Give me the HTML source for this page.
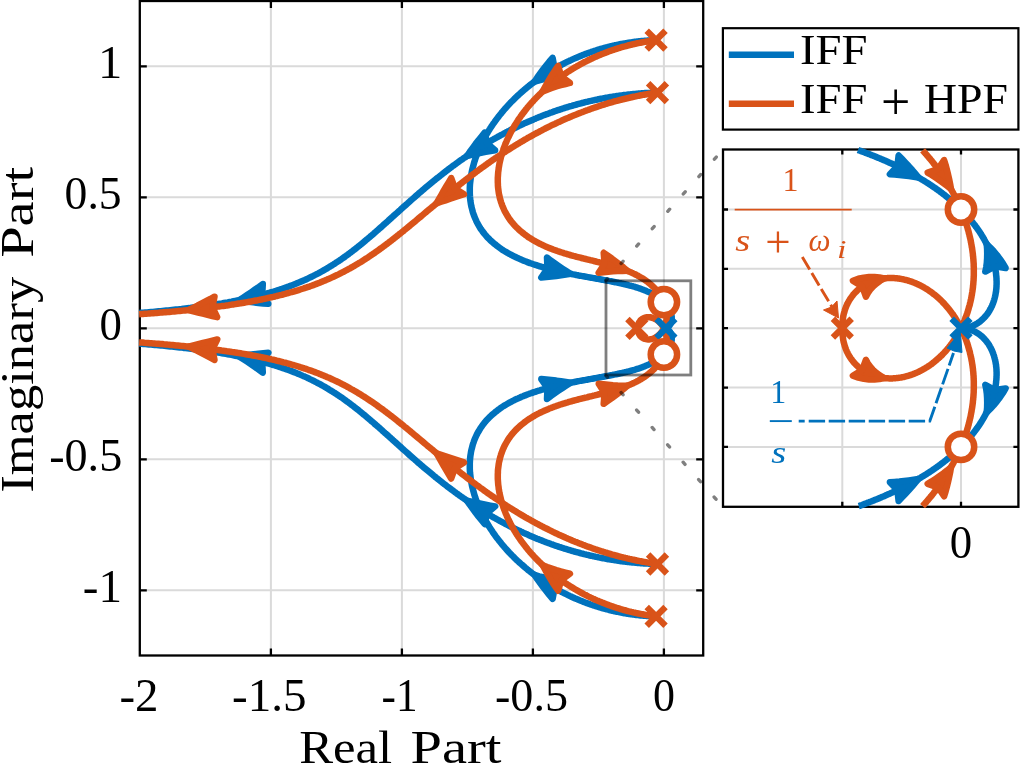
<!DOCTYPE html>
<html><head><meta charset="utf-8"><title>Root Locus</title><style>html,body{margin:0;padding:0;background:#fff}svg{display:block}</style></head><body>
<svg width="1020" height="766" viewBox="0 0 1020 766">
<rect width="1020" height="766" fill="#fff"/>
<g stroke="#dadada" stroke-width="2" fill="none">
<path d="M270.9,1.0 V655.5"/>
<path d="M401.9,1.0 V655.5"/>
<path d="M532.9,1.0 V655.5"/>
<path d="M663.9,1.0 V655.5"/>
<path d="M139.8,66.3 H703.2"/>
<path d="M139.8,197.3 H703.2"/>
<path d="M139.8,328.3 H703.2"/>
<path d="M139.8,459.3 H703.2"/>
<path d="M139.8,590.3 H703.2"/>
</g>
<g stroke="#000" stroke-width="2.3" fill="none">
<rect x="139.8" y="1.0" width="563.4" height="654.5"/>
<path d="M270.9,655.5 v-7 M270.9,1.0 v7"/>
<path d="M401.9,655.5 v-7 M401.9,1.0 v7"/>
<path d="M532.9,655.5 v-7 M532.9,1.0 v7"/>
<path d="M663.9,655.5 v-7 M663.9,1.0 v7"/>
<path d="M139.8,66.3 h7 M703.2,66.3 h-7"/>
<path d="M139.8,197.3 h7 M703.2,197.3 h-7"/>
<path d="M139.8,328.3 h7 M703.2,328.3 h-7"/>
<path d="M139.8,459.3 h7 M703.2,459.3 h-7"/>
<path d="M139.8,590.3 h7 M703.2,590.3 h-7"/>
</g>
<g fill="none" stroke="#0072BD" stroke-width="6.5" stroke-linejoin="round">
<path d="M657.5,564.0 L656.5,564.0 L655.4,563.9 L654.4,563.9 L653.3,563.9 L652.3,563.8 L651.2,563.8 L650.2,563.7 L649.1,563.7 L648.1,563.6 L647.0,563.6 L646.0,563.5 L644.9,563.5 L643.8,563.4 L642.8,563.3 L641.7,563.3 L640.7,563.2 L639.6,563.1 L638.5,563.0 L637.5,562.9 L636.4,562.8 L635.3,562.7 L634.3,562.6 L633.2,562.5 L632.1,562.4 L631.0,562.3 L630.0,562.2 L628.8,562.1 L627.8,562.0 L626.7,561.8 L625.6,561.7 L624.6,561.6 L623.5,561.5 L622.4,561.3 L621.3,561.2 L620.2,561.0 L619.2,560.9 L618.1,560.7 L617.0,560.6 L616.0,560.4 L614.9,560.2 L613.8,560.1 L612.7,559.9 L611.6,559.7 L610.5,559.6 L609.4,559.4 L608.3,559.2 L607.3,559.0 L606.2,558.8 L605.2,558.6 L604.1,558.4 L602.9,558.2 L601.8,558.0 L600.8,557.8 L599.7,557.6 L598.6,557.4 L597.5,557.1 L596.4,556.9 L595.3,556.7 L594.1,556.4 L593.1,556.2 L592.0,555.9 L590.9,555.7 L589.8,555.5 L588.7,555.2 L587.6,554.9 L586.5,554.7 L585.3,554.4 L584.1,554.1 L583.1,553.8 L582.1,553.6 L581.0,553.3 L579.9,553.0 L578.8,552.7 L577.7,552.4 L576.6,552.1 L575.5,551.8 L574.3,551.5 L573.2,551.2 L572.0,550.8 L570.8,550.5 L569.8,550.2 L568.8,549.9 L567.7,549.6 L566.7,549.2 L565.6,548.9 L564.5,548.6 L563.4,548.2 L562.3,547.9 L561.2,547.5 L560.1,547.1 L559.0,546.8 L557.8,546.4 L556.6,546.0 L555.4,545.6 L554.3,545.2 L553.0,544.7 L551.8,544.3 L550.8,544.0 L549.8,543.6 L548.8,543.2 L547.8,542.8 L546.8,542.5 L545.7,542.1 L544.7,541.7 L543.6,541.3 L542.5,540.9 L541.5,540.4 L540.4,540.0 L539.3,539.6 L538.1,539.1 L537.0,538.7 L535.9,538.2 L534.7,537.7 L533.6,537.2 L532.4,536.7 L531.2,536.2 L530.0,535.7 L528.8,535.2 L527.6,534.6 L526.4,534.1 L525.1,533.5 L523.9,533.0 L522.6,532.4 L521.7,531.9 L520.7,531.5 L519.7,531.0 L518.7,530.6 L517.7,530.1 L516.7,529.6 L515.7,529.1 L514.7,528.6 L513.7,528.1 L512.7,527.6 L511.6,527.1 L510.6,526.6 L509.6,526.0 L508.5,525.5 L507.4,524.9 L506.4,524.4 L505.3,523.8 L504.2,523.2 L503.1,522.6 L502.0,522.0 L500.8,521.4 L499.7,520.8 L498.6,520.2 L497.4,519.5 L496.3,518.9 L495.1,518.2 L493.9,517.6 L492.7,516.9 L491.5,516.2 L490.3,515.5 L489.1,514.8 L487.9,514.0 L486.7,513.3 L485.4,512.6 L484.2,511.8 L482.9,511.0 L481.6,510.2 L480.3,509.4 L479.0,508.6 L477.7,507.8 L476.4,506.9 L475.5,506.3 L474.6,505.7 L473.7,505.2 L472.8,504.6 L471.9,504.0 L471.0,503.4 L470.1,502.7 L469.1,502.1 L468.2,501.5 L467.3,500.8 L466.3,500.2 L465.4,499.5 L464.4,498.9 L463.4,498.2 L462.5,497.5 L461.5,496.8 L460.5,496.2 L459.5,495.5 L458.5,494.7 L457.5,494.0 L456.5,493.3 L455.5,492.5 L454.5,491.8 L453.5,491.0 L452.4,490.3 L451.4,489.5 L450.3,488.7 L449.3,487.9 L448.2,487.1 L447.1,486.3 L446.1,485.5 L445.0,484.6 L443.9,483.8 L442.8,482.9 L441.7,482.0 L440.5,481.1 L439.4,480.2 L438.3,479.3 L437.1,478.4 L435.9,477.5 L434.8,476.5 L433.6,475.6 L432.4,474.6 L431.2,473.6 L430.0,472.6 L428.8,471.6 L427.6,470.6 L426.3,469.5 L425.1,468.5 L423.8,467.4 L422.5,466.3 L421.2,465.2 L419.9,464.1 L418.6,463.0 L417.3,461.8 L415.9,460.6 L414.6,459.4 L413.2,458.2 L411.8,457.0 L410.4,455.8 L409.0,454.5 L407.6,453.2 L406.1,451.9 L404.6,450.6 L403.1,449.3 L401.6,447.9 L400.1,446.5 L398.5,445.1 L397.8,444.4 L397.0,443.7 L396.2,443.0 L395.4,442.3 L394.6,441.6 L393.7,440.8 L392.9,440.1 L392.1,439.3 L391.3,438.6 L390.4,437.8 L389.6,437.1 L388.7,436.3 L387.9,435.5 L387.0,434.7 L386.1,433.9 L385.2,433.2 L384.3,432.4 L383.4,431.6 L382.5,430.7 L381.6,429.9 L380.7,429.1 L379.8,428.3 L378.8,427.4 L377.9,426.6 L376.9,425.8 L375.9,424.9 L374.9,424.1 L374.0,423.2 L373.0,422.3 L371.9,421.4 L370.9,420.6 L369.9,419.7 L368.8,418.8 L367.8,417.9 L366.7,417.0 L365.6,416.1 L364.6,415.2 L363.4,414.3 L362.3,413.3 L361.2,412.4 L360.1,411.5 L358.9,410.6 L357.7,409.6 L356.5,408.7 L355.3,407.7 L354.1,406.8 L352.9,405.8 L351.6,404.9 L350.4,403.9 L349.1,403.0 L347.8,402.0 L346.5,401.1 L345.2,400.1 L343.8,399.1 L342.5,398.2 L341.1,397.2 L339.7,396.3 L338.3,395.3 L336.8,394.4 L335.4,393.4 L333.9,392.5 L332.4,391.5 L330.9,390.6 L329.4,389.7 L327.9,388.7 L326.3,387.8 L324.8,386.9 L323.2,386.0 L321.6,385.1 L320.0,384.2 L318.3,383.3 L316.7,382.5 L315.0,381.6 L313.3,380.7 L311.6,379.9 L309.9,379.1 L308.2,378.2 L306.5,377.4 L304.7,376.6 L303.0,375.9 L301.2,375.1 L299.4,374.3 L297.6,373.6 L295.8,372.8 L294.0,372.1 L292.2,371.4 L290.4,370.7 L288.5,370.0 L286.7,369.4 L284.8,368.7 L283.0,368.1 L281.1,367.4 L279.2,366.8 L277.4,366.2 L275.5,365.6 L273.6,365.0 L271.7,364.5 L269.8,363.9 L267.9,363.4 L266.0,362.8 L264.1,362.3 L262.2,361.8 L260.3,361.3 L258.4,360.8 L256.5,360.3 L254.6,359.9 L252.7,359.4 L250.8,359.0 L248.9,358.5 L246.9,358.1 L245.0,357.7 L243.1,357.2 L241.2,356.8 L239.3,356.4 L237.3,356.1 L235.4,355.7 L233.5,355.3 L231.6,354.9 L229.7,354.6 L227.7,354.2 L225.8,353.9 L223.9,353.6 L222.0,353.2 L220.0,352.9 L218.1,352.6 L216.2,352.3 L214.3,352.0 L212.4,351.7 L210.4,351.4 L208.5,351.1 L206.6,350.8 L204.7,350.6 L202.8,350.3 L200.9,350.0 L198.9,349.8 L197.0,349.5 L195.1,349.3 L193.2,349.0 L191.3,348.8 L189.3,348.5 L187.4,348.3 L185.5,348.1 L183.6,347.9 L181.7,347.6 L179.8,347.4 L177.8,347.2 L175.9,347.0 L174.0,346.8 L172.1,346.6 L170.2,346.4 L168.2,346.2 L166.3,346.0 L164.4,345.8 L162.5,345.6 L160.6,345.4 L158.6,345.3 L156.7,345.1 L154.8,344.9 L152.9,344.7 L151.0,344.6 L149.0,344.4 L147.1,344.2 L145.2,344.1 L143.3,343.9 L141.4,343.8 L139.4,343.6"/>
<path d="M657.5,92.6 L656.5,92.6 L655.4,92.7 L654.4,92.7 L653.3,92.7 L652.3,92.8 L651.2,92.8 L650.2,92.9 L649.1,92.9 L648.1,93.0 L647.0,93.0 L646.0,93.1 L644.9,93.1 L643.8,93.2 L642.8,93.3 L641.7,93.3 L640.7,93.4 L639.6,93.5 L638.5,93.6 L637.5,93.7 L636.4,93.8 L635.3,93.9 L634.3,94.0 L633.2,94.1 L632.1,94.2 L631.0,94.3 L630.0,94.4 L628.8,94.5 L627.8,94.6 L626.7,94.8 L625.6,94.9 L624.6,95.0 L623.5,95.1 L622.4,95.3 L621.3,95.4 L620.2,95.6 L619.2,95.7 L618.1,95.9 L617.0,96.0 L616.0,96.2 L614.9,96.4 L613.8,96.5 L612.7,96.7 L611.6,96.9 L610.5,97.0 L609.4,97.2 L608.3,97.4 L607.3,97.6 L606.2,97.8 L605.2,98.0 L604.1,98.2 L602.9,98.4 L601.8,98.6 L600.8,98.8 L599.7,99.0 L598.6,99.2 L597.5,99.5 L596.4,99.7 L595.3,99.9 L594.1,100.2 L593.1,100.4 L592.0,100.7 L590.9,100.9 L589.8,101.1 L588.7,101.4 L587.6,101.7 L586.5,101.9 L585.3,102.2 L584.1,102.5 L583.1,102.8 L582.1,103.0 L581.0,103.3 L579.9,103.6 L578.8,103.9 L577.7,104.2 L576.6,104.5 L575.5,104.8 L574.3,105.1 L573.2,105.4 L572.0,105.8 L570.8,106.1 L569.8,106.4 L568.8,106.7 L567.7,107.0 L566.7,107.4 L565.6,107.7 L564.5,108.0 L563.4,108.4 L562.3,108.7 L561.2,109.1 L560.1,109.5 L559.0,109.8 L557.8,110.2 L556.6,110.6 L555.4,111.0 L554.3,111.4 L553.0,111.9 L551.8,112.3 L550.8,112.6 L549.8,113.0 L548.8,113.4 L547.8,113.8 L546.8,114.1 L545.7,114.5 L544.7,114.9 L543.6,115.3 L542.5,115.7 L541.5,116.2 L540.4,116.6 L539.3,117.0 L538.1,117.5 L537.0,117.9 L535.9,118.4 L534.7,118.9 L533.6,119.4 L532.4,119.9 L531.2,120.4 L530.0,120.9 L528.8,121.4 L527.6,122.0 L526.4,122.5 L525.1,123.1 L523.9,123.6 L522.6,124.2 L521.7,124.7 L520.7,125.1 L519.7,125.6 L518.7,126.0 L517.7,126.5 L516.7,127.0 L515.7,127.5 L514.7,128.0 L513.7,128.5 L512.7,129.0 L511.6,129.5 L510.6,130.0 L509.6,130.6 L508.5,131.1 L507.4,131.7 L506.4,132.2 L505.3,132.8 L504.2,133.4 L503.1,134.0 L502.0,134.6 L500.8,135.2 L499.7,135.8 L498.6,136.4 L497.4,137.1 L496.3,137.7 L495.1,138.4 L493.9,139.0 L492.7,139.7 L491.5,140.4 L490.3,141.1 L489.1,141.8 L487.9,142.6 L486.7,143.3 L485.4,144.0 L484.2,144.8 L482.9,145.6 L481.6,146.4 L480.3,147.2 L479.0,148.0 L477.7,148.8 L476.4,149.7 L475.5,150.3 L474.6,150.9 L473.7,151.4 L472.8,152.0 L471.9,152.6 L471.0,153.2 L470.1,153.9 L469.1,154.5 L468.2,155.1 L467.3,155.8 L466.3,156.4 L465.4,157.1 L464.4,157.7 L463.4,158.4 L462.5,159.1 L461.5,159.8 L460.5,160.4 L459.5,161.1 L458.5,161.9 L457.5,162.6 L456.5,163.3 L455.5,164.1 L454.5,164.8 L453.5,165.6 L452.4,166.3 L451.4,167.1 L450.3,167.9 L449.3,168.7 L448.2,169.5 L447.1,170.3 L446.1,171.1 L445.0,172.0 L443.9,172.8 L442.8,173.7 L441.7,174.6 L440.5,175.5 L439.4,176.4 L438.3,177.3 L437.1,178.2 L435.9,179.1 L434.8,180.1 L433.6,181.0 L432.4,182.0 L431.2,183.0 L430.0,184.0 L428.8,185.0 L427.6,186.0 L426.3,187.1 L425.1,188.1 L423.8,189.2 L422.5,190.3 L421.2,191.4 L419.9,192.5 L418.6,193.6 L417.3,194.8 L415.9,196.0 L414.6,197.2 L413.2,198.4 L411.8,199.6 L410.4,200.8 L409.0,202.1 L407.6,203.4 L406.1,204.7 L404.6,206.0 L403.1,207.3 L401.6,208.7 L400.1,210.1 L398.5,211.5 L397.8,212.2 L397.0,212.9 L396.2,213.6 L395.4,214.3 L394.6,215.0 L393.7,215.8 L392.9,216.5 L392.1,217.3 L391.3,218.0 L390.4,218.8 L389.6,219.5 L388.7,220.3 L387.9,221.1 L387.0,221.9 L386.1,222.7 L385.2,223.4 L384.3,224.2 L383.4,225.0 L382.5,225.9 L381.6,226.7 L380.7,227.5 L379.8,228.3 L378.8,229.2 L377.9,230.0 L376.9,230.8 L375.9,231.7 L374.9,232.5 L374.0,233.4 L373.0,234.3 L371.9,235.2 L370.9,236.0 L369.9,236.9 L368.8,237.8 L367.8,238.7 L366.7,239.6 L365.6,240.5 L364.6,241.4 L363.4,242.3 L362.3,243.3 L361.2,244.2 L360.1,245.1 L358.9,246.0 L357.7,247.0 L356.5,247.9 L355.3,248.9 L354.1,249.8 L352.9,250.8 L351.6,251.7 L350.4,252.7 L349.1,253.6 L347.8,254.6 L346.5,255.5 L345.2,256.5 L343.8,257.5 L342.5,258.4 L341.1,259.4 L339.7,260.3 L338.3,261.3 L336.8,262.2 L335.4,263.2 L333.9,264.1 L332.4,265.1 L330.9,266.0 L329.4,266.9 L327.9,267.9 L326.3,268.8 L324.8,269.7 L323.2,270.6 L321.6,271.5 L320.0,272.4 L318.3,273.3 L316.7,274.1 L315.0,275.0 L313.3,275.9 L311.6,276.7 L309.9,277.5 L308.2,278.4 L306.5,279.2 L304.7,280.0 L303.0,280.7 L301.2,281.5 L299.4,282.3 L297.6,283.0 L295.8,283.8 L294.0,284.5 L292.2,285.2 L290.4,285.9 L288.5,286.6 L286.7,287.2 L284.8,287.9 L283.0,288.5 L281.1,289.2 L279.2,289.8 L277.4,290.4 L275.5,291.0 L273.6,291.6 L271.7,292.1 L269.8,292.7 L267.9,293.2 L266.0,293.8 L264.1,294.3 L262.2,294.8 L260.3,295.3 L258.4,295.8 L256.5,296.3 L254.6,296.7 L252.7,297.2 L250.8,297.6 L248.9,298.1 L246.9,298.5 L245.0,298.9 L243.1,299.4 L241.2,299.8 L239.3,300.2 L237.3,300.5 L235.4,300.9 L233.5,301.3 L231.6,301.7 L229.7,302.0 L227.7,302.4 L225.8,302.7 L223.9,303.0 L222.0,303.4 L220.0,303.7 L218.1,304.0 L216.2,304.3 L214.3,304.6 L212.4,304.9 L210.4,305.2 L208.5,305.5 L206.6,305.8 L204.7,306.0 L202.8,306.3 L200.9,306.6 L198.9,306.8 L197.0,307.1 L195.1,307.3 L193.2,307.6 L191.3,307.8 L189.3,308.1 L187.4,308.3 L185.5,308.5 L183.6,308.7 L181.7,309.0 L179.8,309.2 L177.8,309.4 L175.9,309.6 L174.0,309.8 L172.1,310.0 L170.2,310.2 L168.2,310.4 L166.3,310.6 L164.4,310.8 L162.5,311.0 L160.6,311.2 L158.6,311.3 L156.7,311.5 L154.8,311.7 L152.9,311.9 L151.0,312.0 L149.0,312.2 L147.1,312.4 L145.2,312.5 L143.3,312.7 L141.4,312.8 L139.4,313.0"/>
<path d="M663.9,328.3 L664.9,328.2 L666.0,328.0 L666.9,327.6 L667.8,327.0 L668.7,326.3 L669.4,325.6 L670.0,324.7 L670.5,323.8 L671.0,322.8 L671.3,321.8 L671.5,320.8 L671.7,319.8 L671.7,318.7 L671.7,317.7 L671.7,316.6 L671.5,315.6 L671.3,314.5 L671.1,313.5 L670.7,312.5 L670.4,311.5 L670.0,310.6 L669.5,309.6 L669.0,308.7 L668.5,307.8 L667.9,306.9 L667.3,306.0 L666.7,305.2 L666.0,304.4 L665.3,303.6 L664.6,302.8 L664.5,302.7"/>
<path d="M663.9,328.3 L664.9,328.4 L666.0,328.6 L666.9,329.0 L667.8,329.6 L668.7,330.3 L669.4,331.0 L670.0,331.9 L670.5,332.8 L671.0,333.8 L671.3,334.8 L671.5,335.8 L671.7,336.8 L671.7,337.9 L671.7,338.9 L671.7,340.0 L671.5,341.0 L671.3,342.1 L671.1,343.1 L670.7,344.1 L670.4,345.1 L670.0,346.0 L669.5,347.0 L669.0,347.9 L668.5,348.8 L667.9,349.7 L667.3,350.6 L666.7,351.4 L666.0,352.2 L665.3,353.0 L664.6,353.8 L664.5,353.9"/>
<path d="M656.1,40.2 L655.1,40.2 L654.0,40.3 L653.0,40.3 L651.9,40.4 L650.9,40.4 L649.8,40.5 L648.8,40.5 L647.7,40.6 L646.7,40.7 L645.6,40.8 L644.6,40.8 L643.5,40.9 L642.4,41.0 L641.4,41.1 L640.3,41.2 L639.3,41.3 L638.2,41.5 L637.1,41.6 L636.1,41.7 L635.0,41.8 L634.0,42.0 L632.9,42.1 L631.9,42.3 L630.8,42.4 L629.7,42.6 L628.6,42.7 L627.5,42.9 L626.5,43.1 L625.4,43.3 L624.4,43.4 L623.3,43.6 L622.3,43.8 L621.1,44.0 L620.1,44.2 L619.0,44.5 L618.0,44.7 L616.9,44.9 L615.8,45.1 L614.8,45.3 L613.7,45.6 L612.6,45.8 L611.5,46.1 L610.5,46.3 L609.4,46.6 L608.3,46.9 L607.2,47.2 L606.2,47.4 L605.2,47.7 L604.1,48.0 L603.0,48.3 L601.9,48.6 L600.8,48.9 L599.8,49.2 L598.7,49.5 L597.7,49.9 L596.6,50.2 L595.5,50.6 L594.4,50.9 L593.2,51.3 L592.2,51.6 L591.2,52.0 L590.2,52.3 L589.1,52.7 L588.0,53.1 L586.9,53.5 L585.8,53.9 L584.7,54.3 L583.7,54.7 L582.7,55.1 L581.7,55.5 L580.7,55.9 L579.6,56.3 L578.6,56.8 L577.5,57.2 L576.4,57.7 L575.3,58.1 L574.2,58.6 L573.1,59.1 L572.0,59.6 L571.0,60.1 L570.1,60.5 L569.1,61.0 L568.1,61.4 L567.1,61.9 L566.1,62.4 L565.1,62.9 L564.0,63.5 L563.0,64.0 L561.9,64.5 L560.9,65.1 L559.8,65.7 L558.7,66.2 L557.6,66.9 L556.5,67.5 L555.4,68.1 L554.2,68.7 L553.3,69.3 L552.4,69.8 L551.5,70.4 L550.5,70.9 L549.6,71.5 L548.6,72.1 L547.7,72.7 L546.7,73.3 L545.7,73.9 L544.7,74.6 L543.7,75.2 L542.7,75.9 L541.7,76.6 L540.7,77.2 L539.7,78.0 L538.7,78.7 L537.6,79.4 L536.6,80.2 L535.5,80.9 L534.5,81.7 L533.4,82.5 L532.3,83.3 L531.2,84.2 L530.1,85.0 L529.3,85.7 L528.5,86.3 L527.6,87.0 L526.8,87.7 L526.0,88.4 L525.1,89.1 L524.3,89.8 L523.4,90.6 L522.6,91.3 L521.7,92.1 L520.8,92.8 L520.0,93.6 L519.1,94.4 L518.2,95.2 L517.3,96.0 L516.4,96.9 L515.5,97.7 L514.6,98.6 L513.8,99.5 L512.9,100.4 L511.9,101.3 L511.0,102.2 L510.1,103.2 L509.2,104.1 L508.3,105.1 L507.4,106.1 L506.5,107.1 L505.5,108.2 L504.6,109.2 L503.7,110.3 L502.8,111.4 L501.8,112.5 L500.9,113.7 L500.0,114.8 L499.0,116.0 L498.1,117.2 L497.2,118.4 L496.2,119.7 L495.6,120.5 L495.0,121.4 L494.4,122.3 L493.7,123.1 L493.1,124.0 L492.5,124.9 L491.9,125.9 L491.3,126.8 L490.6,127.7 L490.0,128.7 L489.4,129.6 L488.8,130.6 L488.2,131.6 L487.6,132.6 L487.0,133.7 L486.4,134.7 L485.8,135.7 L485.2,136.8 L484.6,137.9 L484.0,139.0 L483.4,140.1 L482.8,141.2 L482.3,142.4 L481.7,143.5 L481.1,144.7 L480.5,145.9 L480.0,147.1 L479.4,148.4 L478.9,149.6 L478.4,150.9 L477.8,152.2 L477.3,153.5 L476.8,154.8 L476.3,156.1 L475.8,157.5 L475.3,158.9 L474.9,160.3 L474.4,161.7 L474.0,163.2 L473.6,164.7 L473.2,166.2 L472.8,167.7 L472.4,169.2 L472.0,170.8 L471.7,172.4 L471.4,174.0 L471.1,175.6 L470.8,177.3 L470.6,179.0 L470.4,180.7 L470.2,182.4 L470.0,184.2 L469.9,185.9 L469.8,187.7 L469.8,189.6 L469.8,191.4 L469.8,193.2 L469.9,195.1 L470.0,197.0 L470.2,198.9 L470.4,200.8 L470.7,202.7 L471.0,204.7 L471.4,206.6 L471.9,208.5 L472.4,210.4 L472.9,212.4 L473.6,214.3 L474.2,216.1 L475.0,218.0 L475.8,219.8 L476.6,221.6 L477.5,223.4 L478.5,225.1 L479.5,226.8 L480.5,228.5 L481.6,230.0 L482.7,231.6 L483.9,233.1 L485.0,234.5 L486.2,235.9 L487.4,237.3 L488.7,238.5 L489.9,239.8 L491.2,241.0 L492.4,242.1 L493.7,243.2 L494.9,244.2 L496.2,245.2 L497.4,246.2 L498.7,247.1 L499.9,248.0 L501.1,248.9 L502.3,249.7 L503.5,250.5 L504.7,251.2 L505.9,251.9 L507.1,252.6 L508.3,253.3 L509.4,253.9 L510.5,254.5 L511.7,255.1 L512.8,255.7 L513.9,256.2 L514.9,256.8 L516.0,257.3 L517.1,257.8 L518.1,258.2 L519.1,258.7 L520.1,259.1 L521.1,259.6 L522.1,260.0 L523.1,260.4 L524.5,261.0 L526.0,261.5 L527.3,262.1 L528.7,262.6 L530.0,263.1 L531.4,263.5 L532.7,264.0 L533.9,264.4 L535.2,264.8 L536.4,265.2 L537.6,265.6 L538.8,266.0 L539.9,266.3 L541.1,266.7 L542.2,267.0 L543.3,267.3 L544.4,267.6 L545.5,267.9 L546.5,268.2 L547.5,268.5 L548.6,268.8 L549.9,269.1 L551.2,269.5 L552.5,269.8 L553.8,270.1 L555.0,270.4 L556.2,270.7 L557.4,271.0 L558.6,271.2 L559.7,271.5 L560.8,271.8 L561.9,272.0 L563.0,272.2 L564.1,272.5 L565.1,272.7 L566.2,272.9 L567.4,273.2 L568.7,273.5 L569.9,273.7 L571.1,273.9 L572.2,274.2 L573.4,274.4 L574.5,274.6 L575.6,274.8 L576.7,275.1 L577.8,275.3 L578.8,275.5 L580.0,275.7 L581.2,275.9 L582.4,276.1 L583.5,276.3 L584.7,276.5 L585.8,276.7 L586.8,276.9 L587.9,277.1 L588.9,277.3 L590.1,277.5 L591.3,277.7 L592.4,277.9 L593.5,278.1 L594.6,278.3 L595.7,278.5 L596.7,278.7 L597.9,278.9 L599.0,279.1 L600.1,279.3 L601.2,279.5 L602.2,279.7 L603.3,279.9 L604.4,280.1 L605.5,280.3 L606.6,280.5 L607.6,280.7 L608.8,280.9 L609.9,281.1 L611.0,281.3 L612.0,281.5 L613.1,281.8 L614.2,282.0 L615.3,282.2 L616.3,282.4 L617.4,282.6 L618.5,282.9 L619.5,283.1 L620.6,283.3 L621.7,283.5 L622.7,283.8 L623.8,284.0 L624.8,284.3 L625.9,284.5 L626.9,284.8 L628.0,285.0 L629.0,285.3 L630.1,285.6 L631.1,285.9 L632.2,286.1 L633.2,286.4 L634.3,286.7 L635.3,287.0 L636.3,287.4 L637.3,287.7 L638.3,288.0 L639.3,288.3 L640.3,288.7 L641.3,289.0 L642.3,289.4 L643.3,289.8 L644.3,290.2 L645.3,290.6 L646.3,291.0 L647.2,291.4 L648.2,291.8 L649.2,292.2 L650.1,292.7 L651.1,293.2 L652.0,293.6 L653.0,294.2 L653.9,294.7 L654.8,295.2 L655.7,295.7 L656.6,296.3 L657.5,296.9 L658.3,297.5 L659.2,298.1 L660.0,298.7 L660.9,299.4 L661.7,300.1 L662.5,300.7 L663.2,301.5 L663.3,301.5"/>
<path d="M656.1,616.4 L655.1,616.4 L654.0,616.3 L653.0,616.3 L651.9,616.2 L650.9,616.2 L649.8,616.1 L648.8,616.1 L647.7,616.0 L646.7,615.9 L645.6,615.8 L644.6,615.8 L643.5,615.7 L642.4,615.6 L641.4,615.5 L640.3,615.4 L639.3,615.3 L638.2,615.1 L637.1,615.0 L636.1,614.9 L635.0,614.8 L634.0,614.6 L632.9,614.5 L631.9,614.3 L630.8,614.2 L629.7,614.0 L628.6,613.9 L627.5,613.7 L626.5,613.5 L625.4,613.3 L624.4,613.2 L623.3,613.0 L622.3,612.8 L621.1,612.6 L620.1,612.4 L619.0,612.1 L618.0,611.9 L616.9,611.7 L615.8,611.5 L614.8,611.3 L613.7,611.0 L612.6,610.8 L611.5,610.5 L610.5,610.3 L609.4,610.0 L608.3,609.7 L607.2,609.4 L606.2,609.2 L605.2,608.9 L604.1,608.6 L603.0,608.3 L601.9,608.0 L600.8,607.7 L599.8,607.4 L598.7,607.1 L597.7,606.7 L596.6,606.4 L595.5,606.0 L594.4,605.7 L593.2,605.3 L592.2,605.0 L591.2,604.6 L590.2,604.3 L589.1,603.9 L588.0,603.5 L586.9,603.1 L585.8,602.7 L584.7,602.3 L583.7,601.9 L582.7,601.5 L581.7,601.1 L580.7,600.7 L579.6,600.3 L578.6,599.8 L577.5,599.4 L576.4,598.9 L575.3,598.5 L574.2,598.0 L573.1,597.5 L572.0,597.0 L571.0,596.5 L570.1,596.1 L569.1,595.6 L568.1,595.2 L567.1,594.7 L566.1,594.2 L565.1,593.7 L564.0,593.1 L563.0,592.6 L561.9,592.1 L560.9,591.5 L559.8,590.9 L558.7,590.4 L557.6,589.7 L556.5,589.1 L555.4,588.5 L554.2,587.9 L553.3,587.3 L552.4,586.8 L551.5,586.2 L550.5,585.7 L549.6,585.1 L548.6,584.5 L547.7,583.9 L546.7,583.3 L545.7,582.7 L544.7,582.0 L543.7,581.4 L542.7,580.7 L541.7,580.0 L540.7,579.4 L539.7,578.6 L538.7,577.9 L537.6,577.2 L536.6,576.4 L535.5,575.7 L534.5,574.9 L533.4,574.1 L532.3,573.3 L531.2,572.4 L530.1,571.6 L529.3,570.9 L528.5,570.3 L527.6,569.6 L526.8,568.9 L526.0,568.2 L525.1,567.5 L524.3,566.8 L523.4,566.0 L522.6,565.3 L521.7,564.5 L520.8,563.8 L520.0,563.0 L519.1,562.2 L518.2,561.4 L517.3,560.6 L516.4,559.7 L515.5,558.9 L514.6,558.0 L513.8,557.1 L512.9,556.2 L511.9,555.3 L511.0,554.4 L510.1,553.4 L509.2,552.5 L508.3,551.5 L507.4,550.5 L506.5,549.5 L505.5,548.4 L504.6,547.4 L503.7,546.3 L502.8,545.2 L501.8,544.1 L500.9,542.9 L500.0,541.8 L499.0,540.6 L498.1,539.4 L497.2,538.2 L496.2,536.9 L495.6,536.1 L495.0,535.2 L494.4,534.3 L493.7,533.5 L493.1,532.6 L492.5,531.7 L491.9,530.7 L491.3,529.8 L490.6,528.9 L490.0,527.9 L489.4,527.0 L488.8,526.0 L488.2,525.0 L487.6,524.0 L487.0,522.9 L486.4,521.9 L485.8,520.9 L485.2,519.8 L484.6,518.7 L484.0,517.6 L483.4,516.5 L482.8,515.4 L482.3,514.2 L481.7,513.1 L481.1,511.9 L480.5,510.7 L480.0,509.5 L479.4,508.2 L478.9,507.0 L478.4,505.7 L477.8,504.4 L477.3,503.1 L476.8,501.8 L476.3,500.5 L475.8,499.1 L475.3,497.7 L474.9,496.3 L474.4,494.9 L474.0,493.4 L473.6,491.9 L473.2,490.4 L472.8,488.9 L472.4,487.4 L472.0,485.8 L471.7,484.2 L471.4,482.6 L471.1,481.0 L470.8,479.3 L470.6,477.6 L470.4,475.9 L470.2,474.2 L470.0,472.4 L469.9,470.7 L469.8,468.9 L469.8,467.0 L469.8,465.2 L469.8,463.4 L469.9,461.5 L470.0,459.6 L470.2,457.7 L470.4,455.8 L470.7,453.9 L471.0,451.9 L471.4,450.0 L471.9,448.1 L472.4,446.2 L472.9,444.2 L473.6,442.3 L474.2,440.5 L475.0,438.6 L475.8,436.8 L476.6,435.0 L477.5,433.2 L478.5,431.5 L479.5,429.8 L480.5,428.1 L481.6,426.6 L482.7,425.0 L483.9,423.5 L485.0,422.1 L486.2,420.7 L487.4,419.3 L488.7,418.1 L489.9,416.8 L491.2,415.6 L492.4,414.5 L493.7,413.4 L494.9,412.4 L496.2,411.4 L497.4,410.4 L498.7,409.5 L499.9,408.6 L501.1,407.7 L502.3,406.9 L503.5,406.1 L504.7,405.4 L505.9,404.7 L507.1,404.0 L508.3,403.3 L509.4,402.7 L510.5,402.1 L511.7,401.5 L512.8,400.9 L513.9,400.4 L514.9,399.8 L516.0,399.3 L517.1,398.8 L518.1,398.4 L519.1,397.9 L520.1,397.5 L521.1,397.0 L522.1,396.6 L523.1,396.2 L524.5,395.6 L526.0,395.1 L527.3,394.5 L528.7,394.0 L530.0,393.5 L531.4,393.1 L532.7,392.6 L533.9,392.2 L535.2,391.8 L536.4,391.4 L537.6,391.0 L538.8,390.6 L539.9,390.3 L541.1,389.9 L542.2,389.6 L543.3,389.3 L544.4,389.0 L545.5,388.7 L546.5,388.4 L547.5,388.1 L548.6,387.8 L549.9,387.5 L551.2,387.1 L552.5,386.8 L553.8,386.5 L555.0,386.2 L556.2,385.9 L557.4,385.6 L558.6,385.4 L559.7,385.1 L560.8,384.8 L561.9,384.6 L563.0,384.4 L564.1,384.1 L565.1,383.9 L566.2,383.7 L567.4,383.4 L568.7,383.1 L569.9,382.9 L571.1,382.7 L572.2,382.4 L573.4,382.2 L574.5,382.0 L575.6,381.8 L576.7,381.5 L577.8,381.3 L578.8,381.1 L580.0,380.9 L581.2,380.7 L582.4,380.5 L583.5,380.3 L584.7,380.1 L585.8,379.9 L586.8,379.7 L587.9,379.5 L588.9,379.3 L590.1,379.1 L591.3,378.9 L592.4,378.7 L593.5,378.5 L594.6,378.3 L595.7,378.1 L596.7,377.9 L597.9,377.7 L599.0,377.5 L600.1,377.3 L601.2,377.1 L602.2,376.9 L603.3,376.7 L604.4,376.5 L605.5,376.3 L606.6,376.1 L607.6,375.9 L608.8,375.7 L609.9,375.5 L611.0,375.3 L612.0,375.1 L613.1,374.8 L614.2,374.6 L615.3,374.4 L616.3,374.2 L617.4,374.0 L618.5,373.7 L619.5,373.5 L620.6,373.3 L621.7,373.1 L622.7,372.8 L623.8,372.6 L624.8,372.3 L625.9,372.1 L626.9,371.8 L628.0,371.6 L629.0,371.3 L630.1,371.0 L631.1,370.7 L632.2,370.5 L633.2,370.2 L634.3,369.9 L635.3,369.6 L636.3,369.2 L637.3,368.9 L638.3,368.6 L639.3,368.3 L640.3,367.9 L641.3,367.6 L642.3,367.2 L643.3,366.8 L644.3,366.4 L645.3,366.0 L646.3,365.6 L647.2,365.2 L648.2,364.8 L649.2,364.4 L650.1,363.9 L651.1,363.4 L652.0,363.0 L653.0,362.4 L653.9,361.9 L654.8,361.4 L655.7,360.9 L656.6,360.3 L657.5,359.7 L658.3,359.1 L659.2,358.5 L660.0,357.9 L660.9,357.2 L661.7,356.5 L662.5,355.9 L663.2,355.1 L663.3,355.1"/>
</g>
<polygon points="552.6,57.8 549.3,61.7 546.2,65.6 543.1,69.5 540.2,73.5 537.3,77.5 534.6,81.6 539.3,80.3 544.0,79.2 548.7,78.2 553.3,77.3 558.0,76.5 562.6,75.9 554.6,68.6" fill="#0072BD" stroke="#0072BD" stroke-width="6.5" stroke-linejoin="round"/>
<polygon points="562.6,580.7 558.0,580.1 553.3,579.3 548.7,578.4 544.0,577.4 539.3,576.3 534.6,575.0 537.3,579.1 540.2,583.1 543.1,587.1 546.2,591.0 549.3,594.9 552.6,598.8 554.6,588.0" fill="#0072BD" stroke="#0072BD" stroke-width="6.5" stroke-linejoin="round"/>
<polygon points="484.7,132.5 481.6,136.4 478.5,140.2 475.5,144.1 472.6,148.1 469.7,152.0 466.9,156.0 471.6,154.9 476.3,153.8 481.0,152.8 485.7,151.9 490.4,151.0 495.1,150.2 486.9,143.2" fill="#0072BD" stroke="#0072BD" stroke-width="6.5" stroke-linejoin="round"/>
<polygon points="495.1,506.4 490.4,505.6 485.7,504.7 481.0,503.8 476.3,502.8 471.6,501.7 466.9,500.6 469.7,504.6 472.6,508.5 475.5,512.5 478.5,516.4 481.6,520.2 484.7,524.1 486.9,513.4" fill="#0072BD" stroke="#0072BD" stroke-width="6.5" stroke-linejoin="round"/>
<polygon points="262.8,284.0 259.0,286.8 255.1,289.5 251.1,292.3 247.1,295.0 243.1,297.6 239.0,300.2 243.8,301.0 248.7,301.7 253.5,302.3 258.4,302.9 263.3,303.4 268.3,303.8 262.2,294.8" fill="#0072BD" stroke="#0072BD" stroke-width="6.5" stroke-linejoin="round"/>
<polygon points="268.3,352.8 263.3,353.2 258.4,353.7 253.5,354.3 248.7,354.9 243.8,355.6 239.0,356.4 243.1,359.0 247.1,361.6 251.1,364.3 255.1,367.1 259.0,369.8 262.8,372.6 262.2,361.8" fill="#0072BD" stroke="#0072BD" stroke-width="6.5" stroke-linejoin="round"/>
<polygon points="541.3,277.5 546.3,277.0 551.3,276.5 556.2,276.0 561.0,275.3 565.9,274.6 570.7,273.9 566.6,271.3 562.5,268.6 558.5,265.9 554.6,263.2 550.7,260.5 547.0,257.6 547.5,268.5" fill="#0072BD" stroke="#0072BD" stroke-width="6.5" stroke-linejoin="round"/>
<polygon points="547.0,399.0 550.7,396.1 554.6,393.4 558.5,390.7 562.5,388.0 566.6,385.3 570.7,382.7 565.9,382.0 561.0,381.3 556.2,380.6 551.3,380.1 546.3,379.6 541.3,379.1 547.5,388.1" fill="#0072BD" stroke="#0072BD" stroke-width="6.5" stroke-linejoin="round"/>
<g fill="none" stroke="#D95319" stroke-width="6.5" stroke-linejoin="round">
<path d="M657.5,564.0 L656.5,563.9 L655.5,563.7 L654.4,563.6 L653.4,563.4 L652.3,563.3 L651.3,563.1 L650.2,562.9 L649.2,562.8 L648.2,562.6 L647.1,562.4 L646.1,562.2 L645.0,562.1 L644.0,561.9 L642.9,561.7 L641.9,561.5 L640.9,561.3 L639.8,561.1 L638.8,560.9 L637.7,560.7 L636.7,560.5 L635.6,560.2 L634.6,560.0 L633.6,559.8 L632.5,559.6 L631.4,559.3 L630.4,559.1 L629.4,558.9 L628.3,558.6 L627.3,558.4 L626.2,558.1 L625.2,557.9 L624.1,557.6 L623.1,557.4 L622.0,557.1 L620.9,556.9 L619.9,556.6 L618.8,556.3 L617.7,556.0 L616.7,555.7 L615.6,555.5 L614.6,555.2 L613.6,554.9 L612.5,554.6 L611.5,554.3 L610.4,554.0 L609.3,553.7 L608.2,553.4 L607.2,553.0 L606.1,552.7 L605.0,552.4 L603.9,552.0 L602.9,551.7 L601.9,551.4 L600.9,551.1 L599.8,550.7 L598.7,550.4 L597.6,550.0 L596.5,549.6 L595.4,549.3 L594.4,548.9 L593.4,548.6 L592.3,548.2 L591.2,547.8 L590.1,547.4 L589.0,547.0 L587.9,546.6 L586.9,546.3 L585.9,545.9 L584.9,545.5 L583.9,545.1 L582.8,544.7 L581.8,544.3 L580.7,543.9 L579.6,543.5 L578.5,543.1 L577.4,542.6 L576.2,542.1 L575.1,541.7 L574.1,541.3 L573.1,540.9 L572.1,540.5 L571.1,540.0 L570.0,539.6 L569.0,539.1 L568.0,538.7 L566.9,538.2 L565.8,537.8 L564.7,537.3 L563.6,536.8 L562.5,536.3 L561.4,535.8 L560.2,535.2 L559.0,534.7 L557.9,534.2 L556.9,533.7 L555.9,533.3 L555.0,532.8 L554.0,532.3 L553.0,531.9 L552.0,531.4 L551.0,530.9 L550.0,530.4 L548.9,529.9 L547.9,529.3 L546.8,528.8 L545.7,528.3 L544.7,527.7 L543.6,527.2 L542.5,526.6 L541.4,526.0 L540.2,525.4 L539.1,524.8 L538.0,524.2 L536.8,523.6 L535.6,523.0 L534.4,522.3 L533.2,521.6 L532.0,521.0 L531.1,520.5 L530.2,519.9 L529.3,519.4 L528.3,518.9 L527.4,518.4 L526.4,517.8 L525.4,517.3 L524.5,516.7 L523.5,516.1 L522.5,515.5 L521.5,515.0 L520.5,514.4 L519.5,513.8 L518.5,513.1 L517.4,512.5 L516.4,511.9 L515.4,511.2 L514.3,510.6 L513.2,509.9 L512.2,509.3 L511.1,508.6 L510.0,507.9 L508.9,507.2 L507.8,506.5 L506.6,505.8 L505.5,505.1 L504.4,504.3 L503.2,503.6 L502.0,502.8 L500.9,502.0 L499.7,501.2 L498.5,500.4 L497.3,499.6 L496.1,498.8 L494.8,498.0 L493.6,497.1 L492.3,496.3 L491.1,495.4 L489.8,494.5 L488.9,493.9 L488.1,493.3 L487.2,492.7 L486.3,492.0 L485.4,491.4 L484.6,490.8 L483.7,490.1 L482.8,489.5 L481.9,488.8 L480.9,488.2 L480.0,487.5 L479.1,486.8 L478.2,486.1 L477.2,485.5 L476.3,484.8 L475.3,484.0 L474.4,483.3 L473.4,482.6 L472.4,481.9 L471.5,481.1 L470.5,480.4 L469.5,479.6 L468.5,478.9 L467.5,478.1 L466.4,477.3 L465.4,476.5 L464.4,475.7 L463.3,474.9 L462.3,474.1 L461.2,473.3 L460.2,472.4 L459.1,471.6 L458.0,470.7 L456.9,469.9 L455.8,469.0 L454.7,468.1 L453.6,467.2 L452.4,466.3 L451.3,465.4 L450.2,464.4 L449.0,463.5 L447.8,462.5 L446.6,461.6 L445.4,460.6 L444.2,459.6 L443.0,458.6 L441.8,457.6 L440.5,456.6 L439.3,455.5 L438.0,454.5 L436.7,453.4 L435.4,452.3 L434.1,451.2 L432.8,450.1 L431.5,449.0 L430.1,447.9 L428.7,446.7 L427.3,445.6 L425.9,444.4 L424.5,443.2 L423.1,442.0 L421.6,440.7 L420.1,439.5 L418.6,438.3 L417.1,437.0 L415.6,435.7 L414.0,434.4 L412.4,433.1 L410.8,431.7 L410.0,431.1 L409.2,430.4 L408.4,429.7 L407.5,429.0 L406.7,428.3 L405.8,427.6 L405.0,427.0 L404.1,426.3 L403.3,425.5 L402.4,424.8 L401.5,424.1 L400.6,423.4 L399.7,422.7 L398.8,422.0 L397.9,421.2 L397.0,420.5 L396.1,419.8 L395.1,419.0 L394.2,418.3 L393.2,417.5 L392.3,416.8 L391.3,416.0 L390.3,415.3 L389.3,414.5 L388.4,413.8 L387.3,413.0 L386.3,412.2 L385.3,411.5 L384.3,410.7 L383.2,409.9 L382.2,409.1 L381.1,408.4 L380.0,407.6 L378.9,406.8 L377.8,406.0 L376.7,405.2 L375.6,404.4 L374.5,403.6 L373.3,402.8 L372.2,402.1 L371.0,401.3 L369.8,400.5 L368.7,399.7 L367.5,398.9 L366.2,398.1 L365.0,397.3 L363.8,396.5 L362.5,395.7 L361.3,394.9 L360.0,394.1 L358.7,393.4 L357.4,392.6 L356.1,391.8 L354.8,391.0 L353.4,390.2 L352.1,389.5 L350.7,388.7 L349.4,387.9 L348.0,387.2 L346.6,386.4 L345.2,385.7 L343.8,384.9 L342.3,384.2 L340.9,383.5 L339.4,382.7 L338.0,382.0 L336.5,381.3 L335.0,380.6 L333.5,379.9 L332.0,379.2 L330.5,378.5 L329.0,377.8 L327.4,377.2 L325.9,376.5 L324.3,375.9 L322.8,375.2 L321.2,374.6 L319.6,373.9 L318.1,373.3 L316.5,372.7 L314.9,372.1 L313.3,371.5 L311.6,370.9 L310.0,370.3 L308.4,369.8 L306.8,369.2 L305.1,368.7 L303.5,368.1 L301.8,367.6 L300.2,367.1 L298.5,366.5 L296.9,366.0 L295.2,365.5 L293.5,365.0 L291.9,364.6 L290.2,364.1 L288.5,363.6 L286.8,363.2 L285.1,362.7 L283.4,362.3 L281.8,361.8 L280.1,361.4 L278.4,361.0 L276.7,360.6 L275.0,360.1 L273.3,359.7 L271.6,359.4 L269.8,359.0 L268.1,358.6 L266.4,358.2 L264.7,357.8 L263.0,357.5 L261.3,357.1 L259.6,356.8 L257.8,356.4 L256.1,356.1 L254.4,355.8 L252.7,355.5 L251.0,355.1 L249.2,354.8 L247.5,354.5 L245.8,354.2 L244.1,353.9 L242.3,353.6 L240.6,353.3 L238.9,353.1 L237.2,352.8 L235.4,352.5 L233.7,352.2 L232.0,352.0 L230.2,351.7 L228.5,351.4 L226.8,351.2 L225.0,350.9 L223.3,350.7 L221.6,350.5 L219.8,350.2 L218.1,350.0 L216.3,349.8 L214.6,349.5 L212.9,349.3 L211.1,349.1 L209.4,348.9 L207.7,348.7 L205.9,348.5 L204.2,348.3 L202.4,348.1 L200.7,347.9 L198.9,347.7 L197.2,347.5 L195.5,347.3 L193.7,347.1 L192.0,346.9 L190.2,346.7 L188.5,346.5 L186.7,346.4 L185.0,346.2 L183.2,346.0 L181.5,345.9 L179.7,345.7 L178.0,345.5 L176.2,345.4 L174.4,345.2 L172.7,345.0 L170.9,344.9 L169.2,344.7 L167.4,344.6 L165.6,344.4 L163.9,344.3 L162.1,344.1 L160.4,344.0 L158.6,343.8 L156.8,343.7 L155.1,343.6 L153.3,343.4 L151.5,343.3 L149.8,343.2 L148.0,343.0 L146.2,342.9 L144.4,342.8 L142.7,342.6 L140.9,342.5 L139.1,342.4"/>
<path d="M657.5,92.6 L656.5,92.7 L655.5,92.9 L654.4,93.0 L653.4,93.2 L652.3,93.3 L651.3,93.5 L650.2,93.7 L649.2,93.8 L648.2,94.0 L647.1,94.2 L646.1,94.4 L645.0,94.5 L644.0,94.7 L642.9,94.9 L641.9,95.1 L640.9,95.3 L639.8,95.5 L638.8,95.7 L637.7,95.9 L636.7,96.1 L635.6,96.4 L634.6,96.6 L633.6,96.8 L632.5,97.0 L631.4,97.3 L630.4,97.5 L629.4,97.7 L628.3,98.0 L627.3,98.2 L626.2,98.5 L625.2,98.7 L624.1,99.0 L623.1,99.2 L622.0,99.5 L620.9,99.7 L619.9,100.0 L618.8,100.3 L617.7,100.6 L616.7,100.9 L615.6,101.1 L614.6,101.4 L613.6,101.7 L612.5,102.0 L611.5,102.3 L610.4,102.6 L609.3,102.9 L608.2,103.2 L607.2,103.6 L606.1,103.9 L605.0,104.2 L603.9,104.6 L602.9,104.9 L601.9,105.2 L600.9,105.5 L599.8,105.9 L598.7,106.2 L597.6,106.6 L596.5,107.0 L595.4,107.3 L594.4,107.7 L593.4,108.0 L592.3,108.4 L591.2,108.8 L590.1,109.2 L589.0,109.6 L587.9,110.0 L586.9,110.3 L585.9,110.7 L584.9,111.1 L583.9,111.5 L582.8,111.9 L581.8,112.3 L580.7,112.7 L579.6,113.1 L578.5,113.5 L577.4,114.0 L576.2,114.5 L575.1,114.9 L574.1,115.3 L573.1,115.7 L572.1,116.1 L571.1,116.6 L570.0,117.0 L569.0,117.5 L568.0,117.9 L566.9,118.4 L565.8,118.8 L564.7,119.3 L563.6,119.8 L562.5,120.3 L561.4,120.8 L560.2,121.4 L559.0,121.9 L557.9,122.4 L556.9,122.9 L555.9,123.3 L555.0,123.8 L554.0,124.3 L553.0,124.7 L552.0,125.2 L551.0,125.7 L550.0,126.2 L548.9,126.7 L547.9,127.3 L546.8,127.8 L545.7,128.3 L544.7,128.9 L543.6,129.4 L542.5,130.0 L541.4,130.6 L540.2,131.2 L539.1,131.8 L538.0,132.4 L536.8,133.0 L535.6,133.6 L534.4,134.3 L533.2,135.0 L532.0,135.6 L531.1,136.1 L530.2,136.7 L529.3,137.2 L528.3,137.7 L527.4,138.2 L526.4,138.8 L525.4,139.3 L524.5,139.9 L523.5,140.5 L522.5,141.1 L521.5,141.6 L520.5,142.2 L519.5,142.8 L518.5,143.5 L517.4,144.1 L516.4,144.7 L515.4,145.4 L514.3,146.0 L513.2,146.7 L512.2,147.3 L511.1,148.0 L510.0,148.7 L508.9,149.4 L507.8,150.1 L506.6,150.8 L505.5,151.5 L504.4,152.3 L503.2,153.0 L502.0,153.8 L500.9,154.6 L499.7,155.4 L498.5,156.2 L497.3,157.0 L496.1,157.8 L494.8,158.6 L493.6,159.5 L492.3,160.3 L491.1,161.2 L489.8,162.1 L488.9,162.7 L488.1,163.3 L487.2,163.9 L486.3,164.6 L485.4,165.2 L484.6,165.8 L483.7,166.5 L482.8,167.1 L481.9,167.8 L480.9,168.4 L480.0,169.1 L479.1,169.8 L478.2,170.5 L477.2,171.1 L476.3,171.8 L475.3,172.6 L474.4,173.3 L473.4,174.0 L472.4,174.7 L471.5,175.5 L470.5,176.2 L469.5,177.0 L468.5,177.7 L467.5,178.5 L466.4,179.3 L465.4,180.1 L464.4,180.9 L463.3,181.7 L462.3,182.5 L461.2,183.3 L460.2,184.2 L459.1,185.0 L458.0,185.9 L456.9,186.7 L455.8,187.6 L454.7,188.5 L453.6,189.4 L452.4,190.3 L451.3,191.2 L450.2,192.2 L449.0,193.1 L447.8,194.1 L446.6,195.0 L445.4,196.0 L444.2,197.0 L443.0,198.0 L441.8,199.0 L440.5,200.0 L439.3,201.1 L438.0,202.1 L436.7,203.2 L435.4,204.3 L434.1,205.4 L432.8,206.5 L431.5,207.6 L430.1,208.7 L428.7,209.9 L427.3,211.0 L425.9,212.2 L424.5,213.4 L423.1,214.6 L421.6,215.9 L420.1,217.1 L418.6,218.3 L417.1,219.6 L415.6,220.9 L414.0,222.2 L412.4,223.5 L410.8,224.9 L410.0,225.5 L409.2,226.2 L408.4,226.9 L407.5,227.6 L406.7,228.3 L405.8,229.0 L405.0,229.6 L404.1,230.3 L403.3,231.1 L402.4,231.8 L401.5,232.5 L400.6,233.2 L399.7,233.9 L398.8,234.6 L397.9,235.4 L397.0,236.1 L396.1,236.8 L395.1,237.6 L394.2,238.3 L393.2,239.1 L392.3,239.8 L391.3,240.6 L390.3,241.3 L389.3,242.1 L388.4,242.8 L387.3,243.6 L386.3,244.4 L385.3,245.1 L384.3,245.9 L383.2,246.7 L382.2,247.5 L381.1,248.2 L380.0,249.0 L378.9,249.8 L377.8,250.6 L376.7,251.4 L375.6,252.2 L374.5,253.0 L373.3,253.8 L372.2,254.5 L371.0,255.3 L369.8,256.1 L368.7,256.9 L367.5,257.7 L366.2,258.5 L365.0,259.3 L363.8,260.1 L362.5,260.9 L361.3,261.7 L360.0,262.5 L358.7,263.2 L357.4,264.0 L356.1,264.8 L354.8,265.6 L353.4,266.4 L352.1,267.1 L350.7,267.9 L349.4,268.7 L348.0,269.4 L346.6,270.2 L345.2,270.9 L343.8,271.7 L342.3,272.4 L340.9,273.1 L339.4,273.9 L338.0,274.6 L336.5,275.3 L335.0,276.0 L333.5,276.7 L332.0,277.4 L330.5,278.1 L329.0,278.8 L327.4,279.4 L325.9,280.1 L324.3,280.7 L322.8,281.4 L321.2,282.0 L319.6,282.7 L318.1,283.3 L316.5,283.9 L314.9,284.5 L313.3,285.1 L311.6,285.7 L310.0,286.3 L308.4,286.8 L306.8,287.4 L305.1,287.9 L303.5,288.5 L301.8,289.0 L300.2,289.5 L298.5,290.1 L296.9,290.6 L295.2,291.1 L293.5,291.6 L291.9,292.0 L290.2,292.5 L288.5,293.0 L286.8,293.4 L285.1,293.9 L283.4,294.3 L281.8,294.8 L280.1,295.2 L278.4,295.6 L276.7,296.0 L275.0,296.5 L273.3,296.9 L271.6,297.2 L269.8,297.6 L268.1,298.0 L266.4,298.4 L264.7,298.8 L263.0,299.1 L261.3,299.5 L259.6,299.8 L257.8,300.2 L256.1,300.5 L254.4,300.8 L252.7,301.1 L251.0,301.5 L249.2,301.8 L247.5,302.1 L245.8,302.4 L244.1,302.7 L242.3,303.0 L240.6,303.3 L238.9,303.5 L237.2,303.8 L235.4,304.1 L233.7,304.4 L232.0,304.6 L230.2,304.9 L228.5,305.2 L226.8,305.4 L225.0,305.7 L223.3,305.9 L221.6,306.1 L219.8,306.4 L218.1,306.6 L216.3,306.8 L214.6,307.1 L212.9,307.3 L211.1,307.5 L209.4,307.7 L207.7,307.9 L205.9,308.1 L204.2,308.3 L202.4,308.5 L200.7,308.7 L198.9,308.9 L197.2,309.1 L195.5,309.3 L193.7,309.5 L192.0,309.7 L190.2,309.9 L188.5,310.1 L186.7,310.2 L185.0,310.4 L183.2,310.6 L181.5,310.7 L179.7,310.9 L178.0,311.1 L176.2,311.2 L174.4,311.4 L172.7,311.6 L170.9,311.7 L169.2,311.9 L167.4,312.0 L165.6,312.2 L163.9,312.3 L162.1,312.5 L160.4,312.6 L158.6,312.8 L156.8,312.9 L155.1,313.0 L153.3,313.2 L151.5,313.3 L149.8,313.4 L148.0,313.6 L146.2,313.7 L144.4,313.8 L142.7,314.0 L140.9,314.1 L139.1,314.2"/>
<path d="M637.7,328.3 L637.7,329.3 L637.8,330.4 L638.0,331.4 L638.3,332.4 L638.7,333.4 L639.2,334.4 L639.8,335.2 L640.4,336.1 L641.2,336.8 L642.0,337.5 L642.9,338.0 L643.9,338.5 L644.9,338.9 L645.9,339.1 L647.0,339.3 L648.1,339.4 L649.1,339.4 L650.2,339.3 L651.2,339.1 L652.3,338.8 L653.3,338.5 L654.2,338.1 L655.2,337.6 L656.1,337.1 L657.0,336.5 L657.9,335.9 L658.7,335.2 L659.5,334.4 L660.2,333.7 L660.9,332.9 L661.6,332.0 L662.2,331.2 L662.8,330.3 L663.3,329.4 L663.8,328.4 L664.3,327.5 L664.7,326.5 L665.1,325.5 L665.4,324.5 L665.7,323.5 L666.0,322.5 L666.2,321.4 L666.4,320.4 L666.5,319.3 L666.6,318.3 L666.7,317.2 L666.7,316.2 L666.7,315.1 L666.7,314.1 L666.6,313.0 L666.5,312.0 L666.4,310.9 L666.2,309.9 L666.0,308.8 L665.8,307.8 L665.5,306.8 L665.2,305.8 L664.9,304.8 L664.6,303.8 L664.3,303.0"/>
<path d="M637.7,328.3 L637.7,327.3 L637.8,326.2 L638.0,325.2 L638.3,324.2 L638.7,323.2 L639.2,322.2 L639.8,321.4 L640.4,320.5 L641.2,319.8 L642.0,319.1 L642.9,318.6 L643.9,318.1 L644.9,317.7 L645.9,317.5 L647.0,317.3 L648.1,317.2 L649.1,317.2 L650.2,317.3 L651.2,317.5 L652.3,317.8 L653.3,318.1 L654.2,318.5 L655.2,319.0 L656.1,319.5 L657.0,320.1 L657.9,320.7 L658.7,321.4 L659.5,322.2 L660.2,322.9 L660.9,323.7 L661.6,324.6 L662.2,325.4 L662.8,326.3 L663.3,327.2 L663.8,328.2 L664.3,329.1 L664.7,330.1 L665.1,331.1 L665.4,332.1 L665.7,333.1 L666.0,334.1 L666.2,335.2 L666.4,336.2 L666.5,337.3 L666.6,338.3 L666.7,339.4 L666.7,340.4 L666.7,341.5 L666.7,342.5 L666.6,343.6 L666.5,344.6 L666.4,345.7 L666.2,346.7 L666.0,347.8 L665.8,348.8 L665.5,349.8 L665.2,350.8 L664.9,351.8 L664.6,352.8 L664.3,353.6"/>
<path d="M656.1,40.2 L655.1,40.3 L654.0,40.5 L653.0,40.6 L652.0,40.7 L650.9,40.9 L649.9,41.0 L648.8,41.2 L647.8,41.4 L646.8,41.5 L645.7,41.7 L644.7,41.9 L643.6,42.1 L642.6,42.3 L641.5,42.5 L640.5,42.7 L639.5,42.9 L638.4,43.1 L637.3,43.3 L636.3,43.5 L635.3,43.8 L634.2,44.0 L633.2,44.2 L632.2,44.5 L631.1,44.7 L630.1,45.0 L629.0,45.2 L627.9,45.5 L626.9,45.8 L625.9,46.1 L624.8,46.4 L623.8,46.6 L622.7,46.9 L621.7,47.2 L620.7,47.5 L619.6,47.9 L618.6,48.2 L617.6,48.5 L616.5,48.8 L615.5,49.2 L614.5,49.5 L613.4,49.9 L612.3,50.2 L611.3,50.6 L610.3,50.9 L609.2,51.3 L608.1,51.7 L607.2,52.1 L606.1,52.5 L605.1,52.9 L604.1,53.3 L603.0,53.7 L602.0,54.1 L601.0,54.5 L600.0,54.9 L599.0,55.3 L597.9,55.8 L596.9,56.2 L595.8,56.7 L594.8,57.1 L593.8,57.6 L592.9,58.0 L591.9,58.5 L590.8,59.0 L589.8,59.5 L588.7,60.0 L587.7,60.5 L586.6,61.1 L585.6,61.6 L584.7,62.0 L583.7,62.5 L582.7,63.1 L581.7,63.6 L580.7,64.1 L579.7,64.7 L578.7,65.3 L577.6,65.9 L576.6,66.5 L575.5,67.1 L574.4,67.7 L573.5,68.3 L572.6,68.9 L571.7,69.4 L570.7,70.0 L569.8,70.6 L568.8,71.2 L567.8,71.8 L566.9,72.5 L565.9,73.1 L564.9,73.8 L563.9,74.5 L562.8,75.2 L561.8,75.9 L560.8,76.7 L559.7,77.4 L558.7,78.2 L557.8,78.8 L557.0,79.5 L556.1,80.1 L555.2,80.8 L554.3,81.5 L553.5,82.2 L552.6,82.9 L551.7,83.6 L550.8,84.4 L549.9,85.1 L548.9,85.9 L548.0,86.7 L547.1,87.5 L546.2,88.3 L545.2,89.1 L544.3,90.0 L543.3,90.8 L542.4,91.7 L541.4,92.6 L540.5,93.6 L539.5,94.5 L538.5,95.5 L537.5,96.5 L536.8,97.2 L536.0,98.0 L535.3,98.7 L534.6,99.5 L533.8,100.3 L533.1,101.2 L532.3,102.0 L531.5,102.8 L530.8,103.7 L530.0,104.5 L529.3,105.4 L528.5,106.3 L527.7,107.2 L527.0,108.2 L526.2,109.1 L525.4,110.1 L524.7,111.1 L523.9,112.1 L523.1,113.1 L522.4,114.1 L521.6,115.1 L520.8,116.2 L520.1,117.3 L519.3,118.4 L518.5,119.5 L517.8,120.7 L517.0,121.8 L516.3,123.0 L515.5,124.2 L514.7,125.5 L514.0,126.7 L513.3,128.0 L512.5,129.3 L511.8,130.6 L511.0,132.0 L510.3,133.4 L509.6,134.8 L509.1,135.7 L508.7,136.7 L508.2,137.6 L507.7,138.6 L507.3,139.6 L506.8,140.6 L506.4,141.7 L505.9,142.7 L505.5,143.8 L505.1,144.8 L504.7,145.9 L504.2,147.0 L503.8,148.1 L503.4,149.2 L503.1,150.4 L502.7,151.5 L502.3,152.7 L501.9,153.9 L501.6,155.1 L501.2,156.3 L500.9,157.5 L500.6,158.8 L500.3,160.0 L500.0,161.3 L499.7,162.6 L499.4,163.9 L499.2,165.2 L499.0,166.6 L498.7,167.9 L498.6,169.3 L498.4,170.7 L498.2,172.1 L498.1,173.5 L498.0,175.0 L497.9,176.4 L497.8,177.9 L497.8,179.3 L497.8,180.8 L497.8,182.3 L497.9,183.9 L497.9,185.4 L498.0,186.9 L498.2,188.5 L498.4,190.0 L498.6,191.6 L498.8,193.1 L499.1,194.7 L499.5,196.2 L499.8,197.8 L500.2,199.3 L500.7,200.9 L501.1,202.4 L501.7,203.9 L502.2,205.4 L502.8,206.9 L503.5,208.4 L504.1,209.9 L504.8,211.3 L505.6,212.7 L506.4,214.1 L507.2,215.5 L508.0,216.8 L508.8,218.1 L509.7,219.3 L510.6,220.6 L511.5,221.7 L512.5,222.9 L513.4,224.0 L514.4,225.1 L515.4,226.2 L516.4,227.2 L517.4,228.2 L518.4,229.1 L519.4,230.1 L520.4,231.0 L521.4,231.8 L522.4,232.6 L523.4,233.4 L524.4,234.2 L525.4,235.0 L526.4,235.7 L527.4,236.4 L528.3,237.1 L529.3,237.7 L530.3,238.3 L531.2,238.9 L532.2,239.5 L533.1,240.1 L534.1,240.6 L535.0,241.2 L535.9,241.7 L537.3,242.4 L538.6,243.1 L539.9,243.8 L541.2,244.4 L542.5,245.0 L543.8,245.6 L545.0,246.2 L546.2,246.7 L547.4,247.2 L548.6,247.7 L549.7,248.2 L550.9,248.6 L552.0,249.0 L553.1,249.5 L554.2,249.9 L555.2,250.2 L556.3,250.6 L557.3,251.0 L558.3,251.3 L559.3,251.7 L560.6,252.1 L561.9,252.5 L563.2,252.9 L564.4,253.3 L565.6,253.6 L566.8,254.0 L567.9,254.3 L569.0,254.7 L570.1,255.0 L571.2,255.3 L572.3,255.6 L573.3,255.9 L574.4,256.1 L575.6,256.5 L576.8,256.8 L578.0,257.1 L579.2,257.4 L580.4,257.7 L581.5,258.0 L582.6,258.3 L583.7,258.5 L584.7,258.8 L585.7,259.0 L587.0,259.3 L588.1,259.6 L589.3,259.9 L590.4,260.2 L591.5,260.4 L592.6,260.7 L593.6,261.0 L594.7,261.2 L595.8,261.5 L597.0,261.8 L598.1,262.1 L599.2,262.3 L600.3,262.6 L601.3,262.8 L602.4,263.1 L603.6,263.4 L604.7,263.7 L605.7,264.0 L606.8,264.3 L607.8,264.5 L608.9,264.8 L610.0,265.1 L611.0,265.4 L612.1,265.7 L613.2,266.1 L614.2,266.4 L615.3,266.7 L616.3,267.0 L617.4,267.3 L618.5,267.7 L619.5,268.0 L620.5,268.4 L621.5,268.7 L622.5,269.1 L623.5,269.4 L624.6,269.8 L625.6,270.2 L626.6,270.6 L627.6,271.0 L628.6,271.4 L629.6,271.8 L630.6,272.2 L631.6,272.7 L632.6,273.1 L633.6,273.6 L634.5,274.0 L635.5,274.5 L636.5,275.0 L637.4,275.5 L638.4,276.0 L639.3,276.5 L640.2,277.1 L641.2,277.6 L642.1,278.2 L643.0,278.7 L643.9,279.3 L644.8,279.9 L645.6,280.5 L646.5,281.1 L647.4,281.8 L648.2,282.4 L649.1,283.1 L649.9,283.8 L650.7,284.4 L651.5,285.2 L652.3,285.9 L653.0,286.6 L653.8,287.3 L654.5,288.1 L655.3,288.9 L656.0,289.6 L656.7,290.4 L657.3,291.3 L658.0,292.1 L658.6,292.9 L659.3,293.8 L659.9,294.6 L660.4,295.5 L661.0,296.4 L661.5,297.3 L662.0,298.2 L662.5,299.2 L663.0,300.1 L663.4,301.0 L663.5,301.2"/>
<path d="M656.1,616.4 L655.1,616.3 L654.0,616.1 L653.0,616.0 L652.0,615.9 L650.9,615.7 L649.9,615.6 L648.8,615.4 L647.8,615.2 L646.8,615.1 L645.7,614.9 L644.7,614.7 L643.6,614.5 L642.6,614.3 L641.5,614.1 L640.5,613.9 L639.5,613.7 L638.4,613.5 L637.3,613.3 L636.3,613.1 L635.3,612.8 L634.2,612.6 L633.2,612.4 L632.2,612.1 L631.1,611.9 L630.1,611.6 L629.0,611.4 L627.9,611.1 L626.9,610.8 L625.9,610.5 L624.8,610.2 L623.8,610.0 L622.7,609.7 L621.7,609.4 L620.7,609.1 L619.6,608.7 L618.6,608.4 L617.6,608.1 L616.5,607.8 L615.5,607.4 L614.5,607.1 L613.4,606.7 L612.3,606.4 L611.3,606.0 L610.3,605.7 L609.2,605.3 L608.1,604.9 L607.2,604.5 L606.1,604.1 L605.1,603.7 L604.1,603.3 L603.0,602.9 L602.0,602.5 L601.0,602.1 L600.0,601.7 L599.0,601.3 L597.9,600.8 L596.9,600.4 L595.8,599.9 L594.8,599.5 L593.8,599.0 L592.9,598.6 L591.9,598.1 L590.8,597.6 L589.8,597.1 L588.7,596.6 L587.7,596.1 L586.6,595.5 L585.6,595.0 L584.7,594.6 L583.7,594.1 L582.7,593.5 L581.7,593.0 L580.7,592.5 L579.7,591.9 L578.7,591.3 L577.6,590.7 L576.6,590.1 L575.5,589.5 L574.4,588.9 L573.5,588.3 L572.6,587.7 L571.7,587.2 L570.7,586.6 L569.8,586.0 L568.8,585.4 L567.8,584.8 L566.9,584.1 L565.9,583.5 L564.9,582.8 L563.9,582.1 L562.8,581.4 L561.8,580.7 L560.8,579.9 L559.7,579.2 L558.7,578.4 L557.8,577.8 L557.0,577.1 L556.1,576.5 L555.2,575.8 L554.3,575.1 L553.5,574.4 L552.6,573.7 L551.7,573.0 L550.8,572.2 L549.9,571.5 L548.9,570.7 L548.0,569.9 L547.1,569.1 L546.2,568.3 L545.2,567.5 L544.3,566.6 L543.3,565.8 L542.4,564.9 L541.4,564.0 L540.5,563.0 L539.5,562.1 L538.5,561.1 L537.5,560.1 L536.8,559.4 L536.0,558.6 L535.3,557.9 L534.6,557.1 L533.8,556.3 L533.1,555.4 L532.3,554.6 L531.5,553.8 L530.8,552.9 L530.0,552.1 L529.3,551.2 L528.5,550.3 L527.7,549.4 L527.0,548.4 L526.2,547.5 L525.4,546.5 L524.7,545.5 L523.9,544.5 L523.1,543.5 L522.4,542.5 L521.6,541.5 L520.8,540.4 L520.1,539.3 L519.3,538.2 L518.5,537.1 L517.8,535.9 L517.0,534.8 L516.3,533.6 L515.5,532.4 L514.7,531.1 L514.0,529.9 L513.3,528.6 L512.5,527.3 L511.8,526.0 L511.0,524.6 L510.3,523.2 L509.6,521.8 L509.1,520.9 L508.7,519.9 L508.2,519.0 L507.7,518.0 L507.3,517.0 L506.8,516.0 L506.4,514.9 L505.9,513.9 L505.5,512.8 L505.1,511.8 L504.7,510.7 L504.2,509.6 L503.8,508.5 L503.4,507.4 L503.1,506.2 L502.7,505.1 L502.3,503.9 L501.9,502.7 L501.6,501.5 L501.2,500.3 L500.9,499.1 L500.6,497.8 L500.3,496.6 L500.0,495.3 L499.7,494.0 L499.4,492.7 L499.2,491.4 L499.0,490.0 L498.7,488.7 L498.6,487.3 L498.4,485.9 L498.2,484.5 L498.1,483.1 L498.0,481.6 L497.9,480.2 L497.8,478.7 L497.8,477.3 L497.8,475.8 L497.8,474.3 L497.9,472.7 L497.9,471.2 L498.0,469.7 L498.2,468.1 L498.4,466.6 L498.6,465.0 L498.8,463.5 L499.1,461.9 L499.5,460.4 L499.8,458.8 L500.2,457.3 L500.7,455.7 L501.1,454.2 L501.7,452.7 L502.2,451.2 L502.8,449.7 L503.5,448.2 L504.1,446.7 L504.8,445.3 L505.6,443.9 L506.4,442.5 L507.2,441.1 L508.0,439.8 L508.8,438.5 L509.7,437.3 L510.6,436.0 L511.5,434.9 L512.5,433.7 L513.4,432.6 L514.4,431.5 L515.4,430.4 L516.4,429.4 L517.4,428.4 L518.4,427.5 L519.4,426.5 L520.4,425.6 L521.4,424.8 L522.4,424.0 L523.4,423.2 L524.4,422.4 L525.4,421.6 L526.4,420.9 L527.4,420.2 L528.3,419.5 L529.3,418.9 L530.3,418.3 L531.2,417.7 L532.2,417.1 L533.1,416.5 L534.1,416.0 L535.0,415.4 L535.9,414.9 L537.3,414.2 L538.6,413.5 L539.9,412.8 L541.2,412.2 L542.5,411.6 L543.8,411.0 L545.0,410.4 L546.2,409.9 L547.4,409.4 L548.6,408.9 L549.7,408.4 L550.9,408.0 L552.0,407.6 L553.1,407.1 L554.2,406.7 L555.2,406.4 L556.3,406.0 L557.3,405.6 L558.3,405.3 L559.3,404.9 L560.6,404.5 L561.9,404.1 L563.2,403.7 L564.4,403.3 L565.6,403.0 L566.8,402.6 L567.9,402.3 L569.0,401.9 L570.1,401.6 L571.2,401.3 L572.3,401.0 L573.3,400.7 L574.4,400.5 L575.6,400.1 L576.8,399.8 L578.0,399.5 L579.2,399.2 L580.4,398.9 L581.5,398.6 L582.6,398.3 L583.7,398.1 L584.7,397.8 L585.7,397.6 L587.0,397.3 L588.1,397.0 L589.3,396.7 L590.4,396.4 L591.5,396.2 L592.6,395.9 L593.6,395.6 L594.7,395.4 L595.8,395.1 L597.0,394.8 L598.1,394.5 L599.2,394.3 L600.3,394.0 L601.3,393.8 L602.4,393.5 L603.6,393.2 L604.7,392.9 L605.7,392.6 L606.8,392.3 L607.8,392.1 L608.9,391.8 L610.0,391.5 L611.0,391.2 L612.1,390.9 L613.2,390.5 L614.2,390.2 L615.3,389.9 L616.3,389.6 L617.4,389.3 L618.5,388.9 L619.5,388.6 L620.5,388.2 L621.5,387.9 L622.5,387.5 L623.5,387.2 L624.6,386.8 L625.6,386.4 L626.6,386.0 L627.6,385.6 L628.6,385.2 L629.6,384.8 L630.6,384.4 L631.6,383.9 L632.6,383.5 L633.6,383.0 L634.5,382.6 L635.5,382.1 L636.5,381.6 L637.4,381.1 L638.4,380.6 L639.3,380.1 L640.2,379.5 L641.2,379.0 L642.1,378.4 L643.0,377.9 L643.9,377.3 L644.8,376.7 L645.6,376.1 L646.5,375.5 L647.4,374.8 L648.2,374.2 L649.1,373.5 L649.9,372.8 L650.7,372.2 L651.5,371.4 L652.3,370.7 L653.0,370.0 L653.8,369.3 L654.5,368.5 L655.3,367.7 L656.0,367.0 L656.7,366.2 L657.3,365.3 L658.0,364.5 L658.6,363.7 L659.3,362.8 L659.9,362.0 L660.4,361.1 L661.0,360.2 L661.5,359.3 L662.0,358.4 L662.5,357.4 L663.0,356.5 L663.4,355.6 L663.5,355.4"/>
</g>
<polygon points="558.2,65.9 555.3,70.0 552.5,74.2 549.9,78.5 547.4,82.7 545.0,87.1 542.7,91.4 547.3,89.6 551.8,88.0 556.3,86.5 560.8,85.2 565.4,84.0 569.9,82.9 561.2,76.4" fill="#D95319" stroke="#D95319" stroke-width="6.5" stroke-linejoin="round"/>
<polygon points="569.9,573.7 565.4,572.6 560.8,571.4 556.3,570.1 551.8,568.6 547.3,567.0 542.7,565.2 545.0,569.5 547.4,573.9 549.9,578.1 552.5,582.4 555.3,586.6 558.2,590.7 561.2,580.2" fill="#D95319" stroke="#D95319" stroke-width="6.5" stroke-linejoin="round"/>
<polygon points="451.2,178.1 448.7,182.3 446.2,186.5 443.7,190.7 441.3,195.0 438.9,199.2 436.5,203.4 441.1,201.8 445.6,200.3 450.2,198.7 454.8,197.2 459.4,195.7 464.0,194.2 454.9,188.4" fill="#D95319" stroke="#D95319" stroke-width="6.5" stroke-linejoin="round"/>
<polygon points="464.0,462.4 459.4,460.9 454.8,459.4 450.2,457.9 445.6,456.3 441.1,454.8 436.5,453.2 438.9,457.4 441.3,461.6 443.7,465.9 446.2,470.1 448.7,474.3 451.2,478.5 454.9,468.2" fill="#D95319" stroke="#D95319" stroke-width="6.5" stroke-linejoin="round"/>
<polygon points="214.5,296.7 210.3,299.0 206.0,301.2 201.7,303.4 197.4,305.7 193.1,307.8 188.7,310.0 193.4,311.3 198.2,312.5 202.9,313.7 207.6,314.8 212.4,316.0 217.2,317.1 212.4,307.3" fill="#D95319" stroke="#D95319" stroke-width="6.5" stroke-linejoin="round"/>
<polygon points="217.2,339.5 212.4,340.6 207.6,341.8 202.9,342.9 198.2,344.1 193.4,345.3 188.7,346.6 193.1,348.8 197.4,350.9 201.7,353.2 206.0,355.4 210.3,357.6 214.5,359.9 212.4,349.3" fill="#D95319" stroke="#D95319" stroke-width="6.5" stroke-linejoin="round"/>
<polygon points="598.7,272.8 603.4,272.3 608.1,271.8 612.9,271.3 617.6,271.0 622.4,270.9 627.3,270.8 623.6,267.6 619.8,264.5 615.8,261.5 611.8,258.5 607.8,255.7 603.7,252.8 604.6,263.7" fill="#D95319" stroke="#D95319" stroke-width="6.5" stroke-linejoin="round"/>
<polygon points="603.7,403.8 607.8,400.9 611.8,398.1 615.8,395.1 619.8,392.1 623.6,389.0 627.3,385.8 622.4,385.7 617.6,385.6 612.9,385.3 608.1,384.8 603.4,384.3 598.7,383.8 604.6,392.9" fill="#D95319" stroke="#D95319" stroke-width="6.5" stroke-linejoin="round"/>
<path d="M656.5,318.9 L675.3,337.7 M656.5,337.7 L675.3,318.9" stroke="#0072BD" stroke-width="6.3" fill="none"/>
<path d="M646.7,30.8 L665.5,49.6 M646.7,49.6 L665.5,30.8" stroke="#D95319" stroke-width="6.3" fill="none"/>
<path d="M648.1,554.6 L666.9,573.4 M648.1,573.4 L666.9,554.6" stroke="#D95319" stroke-width="6.3" fill="none"/>
<path d="M646.7,607.0 L665.5,625.8 M646.7,625.8 L665.5,607.0" stroke="#D95319" stroke-width="6.3" fill="none"/>
<path d="M648.1,83.2 L666.9,102.0 M648.1,102.0 L666.9,83.2" stroke="#D95319" stroke-width="6.3" fill="none"/>
<path d="M627.4,318.9 L646.2,337.7 M627.4,337.7 L646.2,318.9" stroke="#D95319" stroke-width="6.3" fill="none"/>
<circle cx="663.9" cy="302.1" r="13.2" stroke="#D95319" stroke-width="6.5" fill="#fff"/>
<circle cx="663.9" cy="354.5" r="13.2" stroke="#D95319" stroke-width="6.5" fill="#fff"/>
<rect x="606" y="280.8" width="84.8" height="94.2" fill="none" stroke="#000" stroke-opacity="0.5" stroke-width="2.8"/>
<path d="M606,280.4 L723,149.6 M606,375.6 L723,507" stroke="#000" stroke-opacity="0.5" stroke-width="3.4" stroke-dasharray="2.8 20.5" stroke-dashoffset="0.5" stroke-linecap="round" fill="none"/>
<rect x="723.0" y="149.5" width="295.4" height="357.3" fill="#fff"/>
<g stroke="#dadada" stroke-width="2" fill="none">
<path d="M842.3,149.5 V506.8"/>
<path d="M961.0,149.5 V506.8"/>
<path d="M723.0,209.5 H1018.4"/>
<path d="M723.0,268.8 H1018.4"/>
<path d="M723.0,328.2 H1018.4"/>
<path d="M723.0,387.6 H1018.4"/>
<path d="M723.0,446.9 H1018.4"/>
</g>
<g stroke="#000" stroke-width="2.3" fill="none">
<rect x="723.0" y="149.5" width="295.4" height="357.3"/>
<path d="M842.3,506.8 v-5 M842.3,149.5 v5"/>
<path d="M961.0,506.8 v-5 M961.0,149.5 v5"/>
<path d="M723.0,209.5 h5 M1018.4,209.5 h-5"/>
<path d="M723.0,268.8 h5 M1018.4,268.8 h-5"/>
<path d="M723.0,328.2 h5 M1018.4,328.2 h-5"/>
<path d="M723.0,387.6 h5 M1018.4,387.6 h-5"/>
<path d="M723.0,446.9 h5 M1018.4,446.9 h-5"/>
</g>
<g fill="none" stroke="#0072BD" stroke-width="6.5" stroke-linejoin="round">
<path d="M961.0,328.2 L961.7,328.2 L962.4,328.2 L963.1,328.1 L963.9,328.1 L964.6,328.0 L965.3,327.9 L966.0,327.8 L966.7,327.6 L967.4,327.5 L968.1,327.3 L968.8,327.1 L969.5,327.0 L970.2,326.7 L970.9,326.5 L971.5,326.3 L972.2,326.0 L972.9,325.7 L973.5,325.4 L974.2,325.1 L974.8,324.8 L975.5,324.5 L976.1,324.1 L976.7,323.7 L977.4,323.4 L978.0,323.0 L978.6,322.5 L979.2,322.1 L979.8,321.7 L980.4,321.2 L980.9,320.8 L981.5,320.3 L982.0,319.8 L982.6,319.3 L983.1,318.8 L983.6,318.3 L984.1,317.8 L984.6,317.2 L985.1,316.6 L985.6,316.1 L986.1,315.5 L986.5,315.0 L987.0,314.4 L987.4,313.8 L987.9,313.2 L988.3,312.6 L988.7,312.0 L989.1,311.3 L989.5,310.7 L989.8,310.0 L990.2,309.4 L990.6,308.7 L990.9,308.1 L991.2,307.4 L991.5,306.8 L991.9,306.1 L992.2,305.4 L992.4,304.7 L992.7,304.1 L993.0,303.4 L993.3,302.6 L993.5,301.9 L993.8,301.2 L994.0,300.5 L994.2,299.8 L994.4,299.0 L994.6,298.3 L994.8,297.5 L995.0,296.8 L995.2,296.0 L995.3,295.3 L995.5,294.6 L995.6,293.9 L995.7,293.2 L995.8,292.5 L996.0,291.8 L996.1,291.1 L996.1,290.4 L996.2,289.7 L996.3,289.0 L996.4,288.2 L996.4,287.5 L996.5,286.8 L996.5,286.1 L996.5,285.4 L996.6,284.6 L996.6,283.8 L996.6,283.1 L996.6,282.3 L996.6,281.5 L996.6,280.8 L996.5,280.0 L996.5,279.2 L996.5,278.5 L996.4,277.7 L996.4,277.0 L996.3,276.2 L996.2,275.5 L996.1,274.7 L996.1,274.0 L996.0,273.3 L995.9,272.5 L995.8,271.8 L995.7,271.1 L995.5,270.4 L995.4,269.7 L995.3,269.0 L995.1,268.3 L995.0,267.5 L994.8,266.8 L994.7,266.0 L994.5,265.3 L994.3,264.6 L994.1,263.8 L994.0,263.1 L993.8,262.4 L993.6,261.7 L993.4,261.0 L993.2,260.3 L993.0,259.6 L992.7,258.9 L992.5,258.2 L992.3,257.4 L992.0,256.7 L991.8,256.1 L991.5,255.4 L991.3,254.7 L991.1,254.0 L990.8,253.3 L990.5,252.6 L990.2,251.9 L990.0,251.3 L989.7,250.6 L989.4,249.9 L989.1,249.2 L988.8,248.5 L988.5,247.9 L988.2,247.2 L987.9,246.6 L987.6,245.9 L987.2,245.2 L986.9,244.6 L986.6,243.9 L986.3,243.3 L985.9,242.6 L985.6,242.0 L985.2,241.3 L984.9,240.7 L984.5,240.0 L984.2,239.4 L983.8,238.8 L983.4,238.1 L983.1,237.5 L982.7,236.9 L982.3,236.2 L981.9,235.6 L981.6,235.0 L981.2,234.4 L980.8,233.8 L980.4,233.1 L980.0,232.5 L979.6,231.9 L979.2,231.3 L978.8,230.7 L978.4,230.1 L977.9,229.5 L977.5,228.9 L977.1,228.3 L976.7,227.8 L976.3,227.2 L975.8,226.6 L975.4,226.0 L975.0,225.4 L974.5,224.9 L974.1,224.3 L973.7,223.7 L973.2,223.2 L972.8,222.6 L972.3,222.0 L971.9,221.5 L971.4,220.9 L971.0,220.4 L970.5,219.8 L970.0,219.3 L969.6,218.7 L969.1,218.2 L968.6,217.6 L968.2,217.1 L967.7,216.6 L967.2,216.0 L966.7,215.5 L966.2,214.9 L965.7,214.4 L965.3,213.9 L964.8,213.4 L964.3,212.9 L963.8,212.3 L963.6,212.1"/>
<path d="M961.0,328.2 L961.7,328.2 L962.4,328.2 L963.1,328.3 L963.9,328.3 L964.6,328.4 L965.3,328.5 L966.0,328.6 L966.7,328.8 L967.4,328.9 L968.1,329.1 L968.8,329.3 L969.5,329.4 L970.2,329.7 L970.9,329.9 L971.5,330.1 L972.2,330.4 L972.9,330.7 L973.5,331.0 L974.2,331.3 L974.8,331.6 L975.5,331.9 L976.1,332.3 L976.7,332.7 L977.4,333.0 L978.0,333.4 L978.6,333.9 L979.2,334.3 L979.8,334.7 L980.4,335.2 L980.9,335.6 L981.5,336.1 L982.0,336.6 L982.6,337.1 L983.1,337.6 L983.6,338.1 L984.1,338.6 L984.6,339.2 L985.1,339.8 L985.6,340.3 L986.1,340.9 L986.5,341.4 L987.0,342.0 L987.4,342.6 L987.9,343.2 L988.3,343.8 L988.7,344.4 L989.1,345.1 L989.5,345.7 L989.8,346.4 L990.2,347.0 L990.6,347.7 L990.9,348.3 L991.2,349.0 L991.5,349.6 L991.9,350.3 L992.2,351.0 L992.4,351.7 L992.7,352.3 L993.0,353.0 L993.3,353.8 L993.5,354.5 L993.8,355.2 L994.0,355.9 L994.2,356.6 L994.4,357.4 L994.6,358.1 L994.8,358.9 L995.0,359.6 L995.2,360.4 L995.3,361.1 L995.5,361.8 L995.6,362.5 L995.7,363.2 L995.8,363.9 L996.0,364.6 L996.1,365.3 L996.1,366.0 L996.2,366.7 L996.3,367.4 L996.4,368.2 L996.4,368.9 L996.5,369.6 L996.5,370.3 L996.5,371.0 L996.6,371.8 L996.6,372.6 L996.6,373.3 L996.6,374.1 L996.6,374.9 L996.6,375.6 L996.5,376.4 L996.5,377.2 L996.5,377.9 L996.4,378.7 L996.4,379.4 L996.3,380.2 L996.2,380.9 L996.1,381.7 L996.1,382.4 L996.0,383.1 L995.9,383.9 L995.8,384.6 L995.7,385.3 L995.5,386.0 L995.4,386.7 L995.3,387.4 L995.1,388.1 L995.0,388.9 L994.8,389.6 L994.7,390.4 L994.5,391.1 L994.3,391.8 L994.1,392.6 L994.0,393.3 L993.8,394.0 L993.6,394.7 L993.4,395.4 L993.2,396.1 L993.0,396.8 L992.7,397.5 L992.5,398.2 L992.3,399.0 L992.0,399.7 L991.8,400.3 L991.5,401.0 L991.3,401.7 L991.1,402.4 L990.8,403.1 L990.5,403.8 L990.2,404.5 L990.0,405.1 L989.7,405.8 L989.4,406.5 L989.1,407.2 L988.8,407.9 L988.5,408.5 L988.2,409.2 L987.9,409.8 L987.6,410.5 L987.2,411.2 L986.9,411.8 L986.6,412.5 L986.3,413.1 L985.9,413.8 L985.6,414.4 L985.2,415.1 L984.9,415.7 L984.5,416.4 L984.2,417.0 L983.8,417.6 L983.4,418.3 L983.1,418.9 L982.7,419.5 L982.3,420.2 L981.9,420.8 L981.6,421.4 L981.2,422.0 L980.8,422.6 L980.4,423.3 L980.0,423.9 L979.6,424.5 L979.2,425.1 L978.8,425.7 L978.4,426.3 L977.9,426.9 L977.5,427.5 L977.1,428.1 L976.7,428.6 L976.3,429.2 L975.8,429.8 L975.4,430.4 L975.0,431.0 L974.5,431.5 L974.1,432.1 L973.7,432.7 L973.2,433.2 L972.8,433.8 L972.3,434.4 L971.9,434.9 L971.4,435.5 L971.0,436.0 L970.5,436.6 L970.0,437.1 L969.6,437.7 L969.1,438.2 L968.6,438.8 L968.2,439.3 L967.7,439.8 L967.2,440.4 L966.7,440.9 L966.2,441.5 L965.7,442.0 L965.3,442.5 L964.8,443.0 L964.3,443.5 L963.8,444.1 L963.6,444.3"/>
<path d="M858.0,150.0 L858.7,150.3 L859.4,150.5 L860.2,150.8 L861.0,151.1 L861.9,151.4 L862.7,151.7 L863.5,152.0 L864.3,152.3 L865.0,152.6 L865.8,152.9 L866.6,153.2 L867.4,153.5 L868.1,153.8 L868.9,154.0 L869.6,154.3 L870.3,154.6 L871.1,154.9 L871.8,155.2 L872.5,155.5 L873.2,155.7 L873.9,156.0 L874.6,156.3 L875.3,156.6 L876.0,156.9 L876.6,157.1 L877.3,157.4 L878.0,157.7 L878.7,158.0 L879.5,158.3 L880.3,158.6 L881.1,159.0 L881.8,159.3 L882.5,159.6 L883.3,159.9 L884.0,160.2 L884.7,160.5 L885.4,160.8 L886.1,161.1 L886.8,161.5 L887.5,161.8 L888.2,162.1 L888.9,162.4 L889.6,162.7 L890.2,163.0 L890.9,163.3 L891.6,163.6 L892.4,163.9 L893.1,164.3 L893.8,164.6 L894.5,165.0 L895.2,165.3 L895.9,165.6 L896.6,165.9 L897.3,166.3 L898.0,166.6 L898.6,166.9 L899.3,167.2 L899.9,167.6 L900.6,167.9 L901.3,168.2 L902.0,168.6 L902.7,168.9 L903.4,169.3 L904.1,169.6 L904.8,170.0 L905.4,170.3 L906.1,170.7 L906.7,171.0 L907.4,171.3 L908.1,171.7 L908.8,172.1 L909.5,172.4 L910.1,172.8 L910.8,173.2 L911.5,173.5 L912.1,173.9 L912.8,174.2 L913.4,174.6 L914.1,175.0 L914.7,175.3 L915.4,175.7 L916.1,176.1 L916.7,176.4 L917.3,176.8 L918.0,177.2 L918.6,177.6 L919.3,178.0 L919.9,178.3 L920.6,178.7 L921.2,179.1 L921.8,179.5 L922.5,179.9 L923.1,180.2 L923.7,180.6 L924.4,181.0 L925.0,181.4 L925.6,181.8 L926.3,182.2 L926.9,182.6 L927.5,183.0 L928.1,183.4 L928.8,183.8 L929.4,184.2 L930.0,184.6 L930.6,185.0 L931.2,185.4 L931.8,185.8 L932.5,186.3 L933.1,186.7 L933.7,187.1 L934.3,187.5 L934.9,187.9 L935.5,188.3 L936.1,188.8 L936.7,189.2 L937.3,189.6 L937.9,190.0 L938.5,190.5 L939.1,190.9 L939.7,191.3 L940.2,191.8 L940.8,192.2 L941.4,192.6 L942.0,193.1 L942.6,193.5 L943.2,194.0 L943.7,194.4 L944.3,194.8 L944.9,195.3 L945.4,195.7 L946.0,196.2 L946.6,196.6 L947.1,197.1 L947.7,197.5 L948.2,198.0 L948.8,198.5 L949.4,198.9 L949.9,199.4 L950.5,199.8 L951.0,200.3 L951.6,200.8 L952.1,201.2 L952.6,201.7 L953.2,202.2 L953.7,202.7 L954.3,203.2 L954.8,203.6 L955.3,204.1 L955.9,204.6 L956.4,205.1 L956.9,205.6 L957.4,206.0 L957.9,206.5 L958.3,206.9"/>
<path d="M858.7,506.1 L859.4,505.9 L860.2,505.6 L861.0,505.3 L861.9,505.0 L862.7,504.7 L863.5,504.4 L864.3,504.1 L865.0,503.8 L865.8,503.5 L866.6,503.2 L867.4,502.9 L868.1,502.6 L868.9,502.4 L869.6,502.1 L870.3,501.8 L871.1,501.5 L871.8,501.2 L872.5,500.9 L873.2,500.7 L873.9,500.4 L874.6,500.1 L875.3,499.8 L876.0,499.5 L876.6,499.3 L877.3,499.0 L878.0,498.7 L878.7,498.4 L879.5,498.1 L880.3,497.8 L881.1,497.4 L881.8,497.1 L882.5,496.8 L883.3,496.5 L884.0,496.2 L884.7,495.9 L885.4,495.6 L886.1,495.3 L886.8,494.9 L887.5,494.6 L888.2,494.3 L888.9,494.0 L889.6,493.7 L890.2,493.4 L890.9,493.1 L891.6,492.8 L892.4,492.5 L893.1,492.1 L893.8,491.8 L894.5,491.4 L895.2,491.1 L895.9,490.8 L896.6,490.5 L897.3,490.1 L898.0,489.8 L898.6,489.5 L899.3,489.2 L899.9,488.8 L900.6,488.5 L901.3,488.2 L902.0,487.8 L902.7,487.5 L903.4,487.1 L904.1,486.8 L904.8,486.4 L905.4,486.1 L906.1,485.7 L906.7,485.4 L907.4,485.1 L908.1,484.7 L908.8,484.3 L909.5,484.0 L910.1,483.6 L910.8,483.2 L911.5,482.9 L912.1,482.5 L912.8,482.2 L913.4,481.8 L914.1,481.4 L914.7,481.1 L915.4,480.7 L916.1,480.3 L916.7,480.0 L917.3,479.6 L918.0,479.2 L918.6,478.8 L919.3,478.4 L919.9,478.1 L920.6,477.7 L921.2,477.3 L921.8,476.9 L922.5,476.5 L923.1,476.2 L923.7,475.8 L924.4,475.4 L925.0,475.0 L925.6,474.6 L926.3,474.2 L926.9,473.8 L927.5,473.4 L928.1,473.0 L928.8,472.6 L929.4,472.2 L930.0,471.8 L930.6,471.4 L931.2,471.0 L931.8,470.6 L932.5,470.1 L933.1,469.7 L933.7,469.3 L934.3,468.9 L934.9,468.5 L935.5,468.1 L936.1,467.6 L936.7,467.2 L937.3,466.8 L937.9,466.4 L938.5,465.9 L939.1,465.5 L939.7,465.1 L940.2,464.6 L940.8,464.2 L941.4,463.8 L942.0,463.3 L942.6,462.9 L943.2,462.4 L943.7,462.0 L944.3,461.6 L944.9,461.1 L945.4,460.7 L946.0,460.2 L946.6,459.8 L947.1,459.3 L947.7,458.9 L948.2,458.4 L948.8,457.9 L949.4,457.5 L949.9,457.0 L950.5,456.6 L951.0,456.1 L951.6,455.6 L952.1,455.2 L952.6,454.7 L953.2,454.2 L953.7,453.7 L954.3,453.2 L954.8,452.8 L955.3,452.3 L955.9,451.8 L956.4,451.3 L956.9,450.8 L957.4,450.4 L957.9,449.9 L958.3,449.5"/>
</g>
<polygon points="889.9,174.2 894.6,174.5 899.4,174.9 904.1,175.4 908.9,176.0 913.7,176.7 918.5,177.5 915.3,173.7 912.2,170.0 908.9,166.3 905.5,162.7 902.1,159.1 898.6,155.5 897.4,166.3" fill="#0072BD" stroke="#0072BD" stroke-width="6.5" stroke-linejoin="round"/>
<polygon points="898.6,500.9 902.1,497.3 905.5,493.7 908.9,490.1 912.2,486.4 915.3,482.7 918.5,478.9 913.7,479.7 908.9,480.4 904.1,481.0 899.4,481.5 894.6,481.9 889.9,482.2 897.4,490.1" fill="#0072BD" stroke="#0072BD" stroke-width="6.5" stroke-linejoin="round"/>
<polygon points="1005.6,268.0 1002.9,263.4 1000.0,259.1 996.9,255.0 993.6,251.1 990.2,247.5 986.7,244.1 987.1,248.9 987.2,253.6 987.1,258.3 986.8,262.9 986.2,267.3 985.3,271.6 994.8,266.4" fill="#0072BD" stroke="#0072BD" stroke-width="6.5" stroke-linejoin="round"/>
<polygon points="985.3,384.8 986.2,389.1 986.8,393.5 987.1,398.1 987.2,402.8 987.1,407.5 986.7,412.3 990.2,408.9 993.6,405.3 996.9,401.4 1000.0,397.3 1002.9,393.0 1005.6,388.4 994.8,390.0" fill="#0072BD" stroke="#0072BD" stroke-width="6.5" stroke-linejoin="round"/>
<g fill="none" stroke="#D95319" stroke-width="6.5" stroke-linejoin="round">
<path d="M842.3,328.2 L842.3,328.9 L842.3,329.6 L842.3,330.3 L842.3,331.1 L842.3,331.8 L842.4,332.5 L842.4,333.2 L842.5,333.9 L842.5,334.7 L842.6,335.4 L842.7,336.1 L842.8,336.8 L842.9,337.5 L843.0,338.3 L843.1,339.0 L843.2,339.7 L843.3,340.4 L843.5,341.1 L843.6,341.8 L843.8,342.5 L844.0,343.2 L844.2,343.9 L844.4,344.6 L844.6,345.3 L844.8,346.1 L845.0,346.7 L845.3,347.5 L845.5,348.2 L845.8,348.8 L846.0,349.5 L846.3,350.2 L846.6,350.9 L846.9,351.6 L847.3,352.3 L847.6,352.9 L847.9,353.6 L848.3,354.2 L848.6,354.9 L849.0,355.6 L849.4,356.2 L849.8,356.9 L850.2,357.5 L850.6,358.1 L851.1,358.8 L851.5,359.4 L851.9,359.9 L852.4,360.5 L852.8,361.1 L853.3,361.7 L853.8,362.4 L854.3,362.9 L854.8,363.4 L855.3,364.0 L855.8,364.5 L856.4,365.0 L856.9,365.6 L857.5,366.1 L858.1,366.7 L858.7,367.2 L859.3,367.7 L859.8,368.1 L860.4,368.6 L861.0,369.0 L861.6,369.5 L862.2,369.9 L862.9,370.3 L863.5,370.8 L864.2,371.2 L864.9,371.6 L865.6,372.0 L866.3,372.4 L867.0,372.8 L867.8,373.2 L868.5,373.6 L869.3,373.9 L870.0,374.2 L870.6,374.5 L871.3,374.8 L872.0,375.0 L872.7,375.3 L873.4,375.5 L874.1,375.8 L874.8,376.0 L875.5,376.2 L876.3,376.5 L877.0,376.7 L877.7,376.9 L878.5,377.0 L879.3,377.2 L880.0,377.4 L880.8,377.5 L881.6,377.6 L882.3,377.8 L883.1,377.9 L883.9,378.0 L884.7,378.1 L885.5,378.2 L886.3,378.2 L887.1,378.3 L887.9,378.3 L888.7,378.4 L889.6,378.4 L890.4,378.4 L891.2,378.4 L892.0,378.4 L892.8,378.4 L893.6,378.3 L894.5,378.3 L895.3,378.2 L896.1,378.1 L896.9,378.1 L897.8,378.0 L898.6,377.9 L899.4,377.7 L900.2,377.6 L901.0,377.5 L901.8,377.3 L902.6,377.2 L903.5,377.0 L904.3,376.8 L905.1,376.6 L905.9,376.4 L906.7,376.2 L907.5,376.0 L908.2,375.8 L909.0,375.5 L909.8,375.3 L910.6,375.0 L911.4,374.8 L912.1,374.5 L912.9,374.2 L913.7,373.9 L914.4,373.6 L915.2,373.3 L915.9,373.0 L916.7,372.7 L917.4,372.3 L918.2,372.0 L918.9,371.7 L919.6,371.3 L920.3,370.9 L921.0,370.6 L921.8,370.2 L922.5,369.8 L923.2,369.4 L923.8,369.0 L924.5,368.6 L925.2,368.2 L925.9,367.8 L926.6,367.4 L927.2,367.0 L927.9,366.6 L928.5,366.1 L929.2,365.7 L929.8,365.2 L930.5,364.8 L931.1,364.4 L931.7,363.9 L932.3,363.4 L932.9,363.0 L933.5,362.5 L934.1,362.0 L934.7,361.6 L935.3,361.1 L935.9,360.6 L936.5,360.1 L937.0,359.6 L937.6,359.1 L938.2,358.6 L938.7,358.1 L939.3,357.6 L939.8,357.1 L940.3,356.6 L940.9,356.1 L941.4,355.6 L941.9,355.1 L942.4,354.6 L942.9,354.0 L943.4,353.5 L943.9,353.0 L944.4,352.5 L944.9,351.9 L945.4,351.4 L945.9,350.8 L946.5,350.1 L947.0,349.5 L947.6,348.8 L948.1,348.2 L948.7,347.6 L949.2,346.9 L949.7,346.3 L950.2,345.6 L950.7,344.9 L951.2,344.3 L951.7,343.6 L952.1,343.0 L952.6,342.3 L953.1,341.7 L953.5,341.0 L954.0,340.4 L954.4,339.7 L954.8,339.0 L955.2,338.4 L955.7,337.7 L956.1,337.1 L956.5,336.4 L956.9,335.7 L957.3,335.1 L957.7,334.4 L958.0,333.8 L958.4,333.1 L958.8,332.5 L959.1,331.8 L959.5,331.1 L959.8,330.5 L960.2,329.8 L960.5,329.2 L960.8,328.5 L961.2,327.9 L961.5,327.2 L961.8,326.6 L962.1,325.9 L962.4,325.3 L962.7,324.5 L963.1,323.8 L963.4,323.0 L963.7,322.3 L964.0,321.5 L964.4,320.8 L964.7,320.1 L965.0,319.3 L965.2,318.6 L965.5,317.9 L965.8,317.1 L966.1,316.4 L966.3,315.7 L966.6,315.0 L966.8,314.2 L967.1,313.5 L967.3,312.8 L967.6,312.1 L967.8,311.4 L968.0,310.7 L968.2,310.0 L968.4,309.3 L968.6,308.6 L968.8,307.9 L969.0,307.2 L969.2,306.4 L969.5,305.6 L969.7,304.9 L969.9,304.1 L970.0,303.3 L970.2,302.6 L970.4,301.8 L970.6,301.1 L970.7,300.3 L970.9,299.6 L971.1,298.8 L971.2,298.1 L971.4,297.4 L971.5,296.6 L971.6,295.9 L971.8,295.2 L971.9,294.5 L972.0,293.8 L972.1,293.1 L972.2,292.3 L972.4,291.5 L972.5,290.7 L972.6,289.9 L972.7,289.2 L972.8,288.4 L972.9,287.7 L973.0,286.9 L973.0,286.2 L973.1,285.5 L973.2,284.7 L973.3,284.0 L973.3,283.3 L973.4,282.6 L973.4,281.8 L973.5,281.0 L973.6,280.2 L973.6,279.5 L973.6,278.7 L973.7,278.0 L973.7,277.2 L973.7,276.5 L973.8,275.8 L973.8,275.1 L973.8,274.3 L973.8,273.6 L973.8,272.8 L973.8,272.0 L973.8,271.3 L973.8,270.5 L973.8,269.8 L973.8,269.1 L973.8,268.4 L973.8,267.6 L973.8,266.8 L973.7,266.1 L973.7,265.3 L973.7,264.6 L973.7,263.8 L973.6,263.1 L973.6,262.4 L973.5,261.7 L973.5,260.9 L973.4,260.2 L973.4,259.4 L973.3,258.7 L973.2,258.0 L973.2,257.2 L973.1,256.5 L973.0,255.8 L972.9,255.0 L972.9,254.3 L972.8,253.6 L972.7,252.8 L972.6,252.1 L972.5,251.4 L972.4,250.6 L972.3,249.9 L972.2,249.2 L972.1,248.5 L972.0,247.7 L971.8,247.0 L971.7,246.3 L971.6,245.6 L971.5,244.8 L971.3,244.1 L971.2,243.4 L971.1,242.7 L970.9,242.0 L970.8,241.3 L970.7,240.5 L970.5,239.8 L970.4,239.1 L970.2,238.4 L970.0,237.7 L969.9,237.0 L969.7,236.3 L969.5,235.6 L969.4,234.9 L969.2,234.2 L969.0,233.5 L968.8,232.8 L968.7,232.1 L968.5,231.4 L968.3,230.7 L968.1,230.0 L967.9,229.3 L967.7,228.6 L967.5,227.9 L967.3,227.2 L967.1,226.5 L966.9,225.8 L966.7,225.1 L966.5,224.4 L966.2,223.8 L966.0,223.1 L965.8,222.4 L965.6,221.7 L965.3,221.0 L965.1,220.3 L964.9,219.7 L964.6,219.0 L964.4,218.3 L964.2,217.6 L963.9,217.0 L963.7,216.3 L963.4,215.6 L963.2,215.0 L962.9,214.3 L962.7,213.6 L962.7,213.6"/>
<path d="M842.3,328.2 L842.3,327.5 L842.3,326.8 L842.3,326.1 L842.3,325.3 L842.3,324.6 L842.4,323.9 L842.4,323.2 L842.5,322.5 L842.5,321.7 L842.6,321.0 L842.7,320.3 L842.8,319.6 L842.9,318.9 L843.0,318.1 L843.1,317.4 L843.2,316.7 L843.3,316.0 L843.5,315.3 L843.6,314.6 L843.8,313.9 L844.0,313.2 L844.2,312.5 L844.4,311.8 L844.6,311.1 L844.8,310.3 L845.0,309.7 L845.3,308.9 L845.5,308.2 L845.8,307.6 L846.0,306.9 L846.3,306.2 L846.6,305.5 L846.9,304.8 L847.3,304.1 L847.6,303.5 L847.9,302.8 L848.3,302.2 L848.6,301.5 L849.0,300.8 L849.4,300.2 L849.8,299.5 L850.2,298.9 L850.6,298.3 L851.1,297.6 L851.5,297.0 L851.9,296.5 L852.4,295.9 L852.8,295.3 L853.3,294.7 L853.8,294.0 L854.3,293.5 L854.8,293.0 L855.3,292.4 L855.8,291.9 L856.4,291.4 L856.9,290.8 L857.5,290.3 L858.1,289.7 L858.7,289.2 L859.3,288.7 L859.8,288.3 L860.4,287.8 L861.0,287.4 L861.6,286.9 L862.2,286.5 L862.9,286.1 L863.5,285.6 L864.2,285.2 L864.9,284.8 L865.6,284.4 L866.3,284.0 L867.0,283.6 L867.8,283.2 L868.5,282.8 L869.3,282.5 L870.0,282.2 L870.6,281.9 L871.3,281.6 L872.0,281.4 L872.7,281.1 L873.4,280.9 L874.1,280.6 L874.8,280.4 L875.5,280.2 L876.3,279.9 L877.0,279.7 L877.7,279.5 L878.5,279.4 L879.3,279.2 L880.0,279.0 L880.8,278.9 L881.6,278.8 L882.3,278.6 L883.1,278.5 L883.9,278.4 L884.7,278.3 L885.5,278.2 L886.3,278.2 L887.1,278.1 L887.9,278.1 L888.7,278.0 L889.6,278.0 L890.4,278.0 L891.2,278.0 L892.0,278.0 L892.8,278.0 L893.6,278.1 L894.5,278.1 L895.3,278.2 L896.1,278.3 L896.9,278.3 L897.8,278.4 L898.6,278.5 L899.4,278.7 L900.2,278.8 L901.0,278.9 L901.8,279.1 L902.6,279.2 L903.5,279.4 L904.3,279.6 L905.1,279.8 L905.9,280.0 L906.7,280.2 L907.5,280.4 L908.2,280.6 L909.0,280.9 L909.8,281.1 L910.6,281.4 L911.4,281.6 L912.1,281.9 L912.9,282.2 L913.7,282.5 L914.4,282.8 L915.2,283.1 L915.9,283.4 L916.7,283.7 L917.4,284.1 L918.2,284.4 L918.9,284.7 L919.6,285.1 L920.3,285.5 L921.0,285.8 L921.8,286.2 L922.5,286.6 L923.2,287.0 L923.8,287.4 L924.5,287.8 L925.2,288.2 L925.9,288.6 L926.6,289.0 L927.2,289.4 L927.9,289.8 L928.5,290.3 L929.2,290.7 L929.8,291.2 L930.5,291.6 L931.1,292.0 L931.7,292.5 L932.3,293.0 L932.9,293.4 L933.5,293.9 L934.1,294.4 L934.7,294.8 L935.3,295.3 L935.9,295.8 L936.5,296.3 L937.0,296.8 L937.6,297.3 L938.2,297.8 L938.7,298.3 L939.3,298.8 L939.8,299.3 L940.3,299.8 L940.9,300.3 L941.4,300.8 L941.9,301.3 L942.4,301.8 L942.9,302.4 L943.4,302.9 L943.9,303.4 L944.4,303.9 L944.9,304.5 L945.4,305.0 L945.9,305.6 L946.5,306.3 L947.0,306.9 L947.6,307.6 L948.1,308.2 L948.7,308.8 L949.2,309.5 L949.7,310.1 L950.2,310.8 L950.7,311.5 L951.2,312.1 L951.7,312.8 L952.1,313.4 L952.6,314.1 L953.1,314.7 L953.5,315.4 L954.0,316.0 L954.4,316.7 L954.8,317.4 L955.2,318.0 L955.7,318.7 L956.1,319.3 L956.5,320.0 L956.9,320.7 L957.3,321.3 L957.7,322.0 L958.0,322.6 L958.4,323.3 L958.8,323.9 L959.1,324.6 L959.5,325.3 L959.8,325.9 L960.2,326.6 L960.5,327.2 L960.8,327.9 L961.2,328.5 L961.5,329.2 L961.8,329.8 L962.1,330.5 L962.4,331.1 L962.7,331.9 L963.1,332.6 L963.4,333.4 L963.7,334.1 L964.0,334.9 L964.4,335.6 L964.7,336.3 L965.0,337.1 L965.2,337.8 L965.5,338.5 L965.8,339.3 L966.1,340.0 L966.3,340.7 L966.6,341.4 L966.8,342.2 L967.1,342.9 L967.3,343.6 L967.6,344.3 L967.8,345.0 L968.0,345.7 L968.2,346.4 L968.4,347.1 L968.6,347.8 L968.8,348.5 L969.0,349.2 L969.2,350.0 L969.5,350.8 L969.7,351.5 L969.9,352.3 L970.0,353.1 L970.2,353.8 L970.4,354.6 L970.6,355.3 L970.7,356.1 L970.9,356.8 L971.1,357.6 L971.2,358.3 L971.4,359.0 L971.5,359.8 L971.6,360.5 L971.8,361.2 L971.9,361.9 L972.0,362.6 L972.1,363.3 L972.2,364.1 L972.4,364.9 L972.5,365.7 L972.6,366.5 L972.7,367.2 L972.8,368.0 L972.9,368.7 L973.0,369.5 L973.0,370.2 L973.1,370.9 L973.2,371.7 L973.3,372.4 L973.3,373.1 L973.4,373.8 L973.4,374.6 L973.5,375.4 L973.6,376.2 L973.6,376.9 L973.6,377.7 L973.7,378.4 L973.7,379.2 L973.7,379.9 L973.8,380.6 L973.8,381.3 L973.8,382.1 L973.8,382.8 L973.8,383.6 L973.8,384.4 L973.8,385.1 L973.8,385.9 L973.8,386.6 L973.8,387.3 L973.8,388.0 L973.8,388.8 L973.8,389.6 L973.7,390.3 L973.7,391.1 L973.7,391.8 L973.7,392.6 L973.6,393.3 L973.6,394.0 L973.5,394.7 L973.5,395.5 L973.4,396.2 L973.4,397.0 L973.3,397.7 L973.2,398.4 L973.2,399.2 L973.1,399.9 L973.0,400.6 L972.9,401.4 L972.9,402.1 L972.8,402.8 L972.7,403.6 L972.6,404.3 L972.5,405.0 L972.4,405.8 L972.3,406.5 L972.2,407.2 L972.1,407.9 L972.0,408.7 L971.8,409.4 L971.7,410.1 L971.6,410.8 L971.5,411.6 L971.3,412.3 L971.2,413.0 L971.1,413.7 L970.9,414.4 L970.8,415.1 L970.7,415.9 L970.5,416.6 L970.4,417.3 L970.2,418.0 L970.0,418.7 L969.9,419.4 L969.7,420.1 L969.5,420.8 L969.4,421.5 L969.2,422.2 L969.0,422.9 L968.8,423.6 L968.7,424.3 L968.5,425.0 L968.3,425.7 L968.1,426.4 L967.9,427.1 L967.7,427.8 L967.5,428.5 L967.3,429.2 L967.1,429.9 L966.9,430.6 L966.7,431.3 L966.5,432.0 L966.2,432.6 L966.0,433.3 L965.8,434.0 L965.6,434.7 L965.3,435.4 L965.1,436.1 L964.9,436.7 L964.6,437.4 L964.4,438.1 L964.2,438.8 L963.9,439.4 L963.7,440.1 L963.4,440.8 L963.2,441.4 L962.9,442.1 L962.7,442.8 L962.7,442.8"/>
<path d="M922.6,150.3 L923.1,150.9 L923.7,151.5 L924.2,152.1 L924.7,152.7 L925.2,153.2 L925.7,153.8 L926.2,154.3 L926.6,154.9 L927.1,155.4 L927.6,156.0 L928.1,156.6 L928.6,157.2 L929.1,157.8 L929.6,158.4 L930.1,158.9 L930.5,159.5 L931.0,160.0 L931.5,160.6 L932.0,161.2 L932.4,161.8 L932.9,162.4 L933.4,163.0 L933.8,163.6 L934.2,164.1 L934.7,164.7 L935.2,165.3 L935.6,165.9 L936.1,166.5 L936.5,167.1 L937.0,167.7 L937.4,168.3 L937.9,168.9 L938.3,169.5 L938.7,170.1 L939.2,170.7 L939.6,171.3 L940.0,171.9 L940.4,172.5 L940.9,173.1 L941.3,173.8 L941.7,174.4 L942.1,174.9 L942.6,175.6 L943.0,176.2 L943.4,176.8 L943.8,177.4 L944.2,178.0 L944.6,178.6 L945.0,179.2 L945.4,179.9 L945.8,180.5 L946.2,181.1 L946.6,181.7 L946.9,182.3 L947.3,182.9 L947.7,183.6 L948.1,184.2 L948.5,184.8 L948.8,185.4 L949.2,186.0 L949.6,186.7 L949.9,187.3 L950.3,187.9 L950.7,188.6 L951.0,189.2 L951.4,189.8 L951.7,190.5 L952.1,191.1 L952.5,191.8 L952.8,192.4 L953.2,193.0 L953.5,193.7 L953.8,194.3 L954.2,194.9 L954.5,195.6 L954.8,196.2 L955.1,196.9 L955.5,197.5 L955.8,198.1 L956.1,198.8 L956.4,199.4 L956.8,200.1 L957.1,200.7 L957.4,201.4 L957.7,202.0 L958.0,202.7 L958.3,203.3 L958.6,204.0 L958.9,204.6 L959.2,205.3 L959.2,205.4"/>
<path d="M922.6,506.1 L923.1,505.5 L923.7,504.9 L924.2,504.3 L924.7,503.7 L925.2,503.2 L925.7,502.6 L926.2,502.1 L926.6,501.5 L927.1,501.0 L927.6,500.4 L928.1,499.8 L928.6,499.2 L929.1,498.6 L929.6,498.0 L930.1,497.5 L930.5,496.9 L931.0,496.4 L931.5,495.8 L932.0,495.2 L932.4,494.6 L932.9,494.0 L933.4,493.4 L933.8,492.8 L934.2,492.3 L934.7,491.7 L935.2,491.1 L935.6,490.5 L936.1,489.9 L936.5,489.3 L937.0,488.7 L937.4,488.1 L937.9,487.5 L938.3,486.9 L938.7,486.3 L939.2,485.7 L939.6,485.1 L940.0,484.5 L940.4,483.9 L940.9,483.3 L941.3,482.6 L941.7,482.0 L942.1,481.5 L942.6,480.8 L943.0,480.2 L943.4,479.6 L943.8,479.0 L944.2,478.4 L944.6,477.8 L945.0,477.2 L945.4,476.5 L945.8,475.9 L946.2,475.3 L946.6,474.7 L946.9,474.1 L947.3,473.5 L947.7,472.8 L948.1,472.2 L948.5,471.6 L948.8,471.0 L949.2,470.4 L949.6,469.7 L949.9,469.1 L950.3,468.5 L950.7,467.8 L951.0,467.2 L951.4,466.6 L951.7,465.9 L952.1,465.3 L952.5,464.6 L952.8,464.0 L953.2,463.4 L953.5,462.7 L953.8,462.1 L954.2,461.5 L954.5,460.8 L954.8,460.2 L955.1,459.5 L955.5,458.9 L955.8,458.3 L956.1,457.6 L956.4,457.0 L956.8,456.3 L957.1,455.7 L957.4,455.0 L957.7,454.4 L958.0,453.7 L958.3,453.1 L958.6,452.4 L958.9,451.8 L959.2,451.1 L959.2,451.0"/>
</g>
<polygon points="927.7,172.6 931.7,175.0 935.6,177.6 939.5,180.3 943.4,183.1 947.2,186.0 951.0,189.1 950.2,184.3 949.2,179.5 948.1,174.6 946.9,169.8 945.6,164.9 944.1,160.1 938.0,169.1" fill="#D95319" stroke="#D95319" stroke-width="6.5" stroke-linejoin="round"/>
<polygon points="944.1,496.3 945.6,491.5 946.9,486.6 948.1,481.8 949.2,476.9 950.2,472.1 951.0,467.3 947.2,470.4 943.4,473.3 939.5,476.1 935.6,478.8 931.7,481.4 927.7,483.8 938.0,487.3" fill="#D95319" stroke="#D95319" stroke-width="6.5" stroke-linejoin="round"/>
<polygon points="865.9,296.6 867.8,293.1 870.2,289.7 873.0,286.5 876.4,283.5 880.1,280.8 884.3,278.4 879.4,277.4 874.4,276.9 869.1,276.9 863.8,277.6 858.3,278.8 852.9,280.7 862.2,286.5" fill="#D95319" stroke="#D95319" stroke-width="6.5" stroke-linejoin="round"/>
<polygon points="852.9,375.7 858.3,377.6 863.8,378.8 869.1,379.5 874.4,379.5 879.4,379.0 884.3,378.0 880.1,375.6 876.4,372.9 873.0,369.9 870.2,366.7 867.8,363.3 865.9,359.8 862.2,369.9" fill="#D95319" stroke="#D95319" stroke-width="6.5" stroke-linejoin="round"/>
<path d="M951.6,318.8 L970.4,337.6 M951.6,337.6 L970.4,318.8" stroke="#0072BD" stroke-width="6.3" fill="none"/>
<path d="M832.9,318.8 L851.7,337.6 M832.9,337.6 L851.7,318.8" stroke="#D95319" stroke-width="6.3" fill="none"/>
<circle cx="961.0" cy="209.5" r="13.2" stroke="#D95319" stroke-width="6.5" fill="#fff"/>
<circle cx="961.0" cy="446.9" r="13.2" stroke="#D95319" stroke-width="6.5" fill="#fff"/>
<path d="M802.3,257.1 L832,307" stroke="#D95319" stroke-width="2.9" stroke-dasharray="14.5 4" fill="none"/>
<path d="M838.5,318 L823.5,310 L831.5,307 L837,301 Z" fill="#D95319" stroke="#D95319" stroke-width="1" stroke-linejoin="round"/>
<path d="M798.7,421.1 H929.8 L953.5,353" stroke="#0072BD" stroke-width="2.9" stroke-dasharray="6 4 16.4 3.6 16.4 3.6 16.4 3.6 16.4 3.6 16.4 3.6 16.4 3.6 16.4 3.6 16.4 3.6 16.4 3.6 16.4 3.6 16.4 3.6" fill="none"/>
<path d="M960.3,332.5 L947,348 L954,351 L962,352.5 Z" fill="#0072BD" stroke="#0072BD" stroke-width="1" stroke-linejoin="round"/>
<path d="M734.7,209.6 H851.7" stroke="#D95319" stroke-width="1.9"/>
<path d="M769.8,421.1 H791.8" stroke="#0072BD" stroke-width="1.9"/>
<rect x="722.9" y="28.2" width="295.5" height="101.4" fill="#fff" stroke="#000" stroke-width="2.2"/>
<path d="M728.8,54.7 H794" stroke="#0072BD" stroke-width="6.5"/>
<path d="M728.8,103.7 H794" stroke="#D95319" stroke-width="6.5"/>
<g font-family="Liberation Serif, serif" fill="#000">
<text x="98.0" y="78.2" font-size="45.8" text-anchor="start" textLength="24.3" lengthAdjust="spacingAndGlyphs">1</text>
<text x="64.6" y="209.2" font-size="45.8" text-anchor="start" textLength="57.0" lengthAdjust="spacingAndGlyphs">0.5</text>
<text x="99.4" y="340.2" font-size="45.8" text-anchor="start" textLength="22.4" lengthAdjust="spacingAndGlyphs">0</text>
<text x="49.2" y="471.2" font-size="45.8" text-anchor="start" textLength="73.0" lengthAdjust="spacingAndGlyphs">-0.5</text>
<text x="82.8" y="602.2" font-size="45.8" text-anchor="start" textLength="39.2" lengthAdjust="spacingAndGlyphs">-1</text>
<text x="119.5" y="710.7" font-size="45.8" text-anchor="start" textLength="39.0" lengthAdjust="spacingAndGlyphs">-2</text>
<text x="232.0" y="710.7" font-size="45.8" text-anchor="start" textLength="74.5" lengthAdjust="spacingAndGlyphs">-1.5</text>
<text x="381.5" y="710.7" font-size="45.8" text-anchor="start" textLength="36.0" lengthAdjust="spacingAndGlyphs">-1</text>
<text x="495.0" y="710.7" font-size="45.8" text-anchor="start" textLength="73.0" lengthAdjust="spacingAndGlyphs">-0.5</text>
<text x="653.0" y="710.7" font-size="45.8" text-anchor="start" textLength="22.0" lengthAdjust="spacingAndGlyphs">0</text>
<text x="949.8" y="558.0" font-size="45.8" text-anchor="start" textLength="22.4" lengthAdjust="spacingAndGlyphs">0</text>
<text x="299.2" y="762.8" font-size="46.0" text-anchor="start" textLength="93.0" lengthAdjust="spacingAndGlyphs">Real</text>
<text x="410.5" y="762.8" font-size="46.0" text-anchor="start" textLength="91.0" lengthAdjust="spacingAndGlyphs">Part</text>
<text transform="translate(33.2,492.8) rotate(-90)" font-size="46" textLength="216" lengthAdjust="spacingAndGlyphs">Imaginary</text>
<text transform="translate(33.2,257.8) rotate(-90)" font-size="46" textLength="91" lengthAdjust="spacingAndGlyphs">Part</text>
<text x="800.0" y="64.4" font-size="42.5" text-anchor="start" textLength="67.5" lengthAdjust="spacingAndGlyphs">IFF</text>
<text x="800.0" y="113.0" font-size="42.5" text-anchor="start" textLength="67.5" lengthAdjust="spacingAndGlyphs">IFF</text>
<text x="881.0" y="119.4" font-size="52.0" text-anchor="start">+</text>
<text x="924.0" y="113.0" font-size="42.5" text-anchor="start" textLength="84.0" lengthAdjust="spacingAndGlyphs">HPF</text>
</g>
<g font-family="Liberation Serif, serif" fill="#D95319">
<text x="782.5" y="190.7" font-size="33.0" text-anchor="start" textLength="16.0" lengthAdjust="spacingAndGlyphs">1</text>
<text x="735.3" y="250.7" font-size="30.5" font-style="italic" textLength="15" lengthAdjust="spacingAndGlyphs">s</text>
<text x="765.3" y="257.4" font-size="45.0" text-anchor="start">+</text>
<text x="808.5" y="250.7" font-size="31" font-style="italic" textLength="22" lengthAdjust="spacingAndGlyphs">ω</text>
<text x="837" y="257.5" font-size="25" font-style="italic" textLength="9.5" lengthAdjust="spacingAndGlyphs">i</text>
</g>
<g font-family="Liberation Serif, serif" fill="#0072BD">
<text x="770.3" y="402.7" font-size="33.0" text-anchor="start" textLength="16.0" lengthAdjust="spacingAndGlyphs">1</text>
<text x="771.3" y="462.8" font-size="30.5" font-style="italic" textLength="15" lengthAdjust="spacingAndGlyphs">s</text>
</g>
</svg>
</body></html>
